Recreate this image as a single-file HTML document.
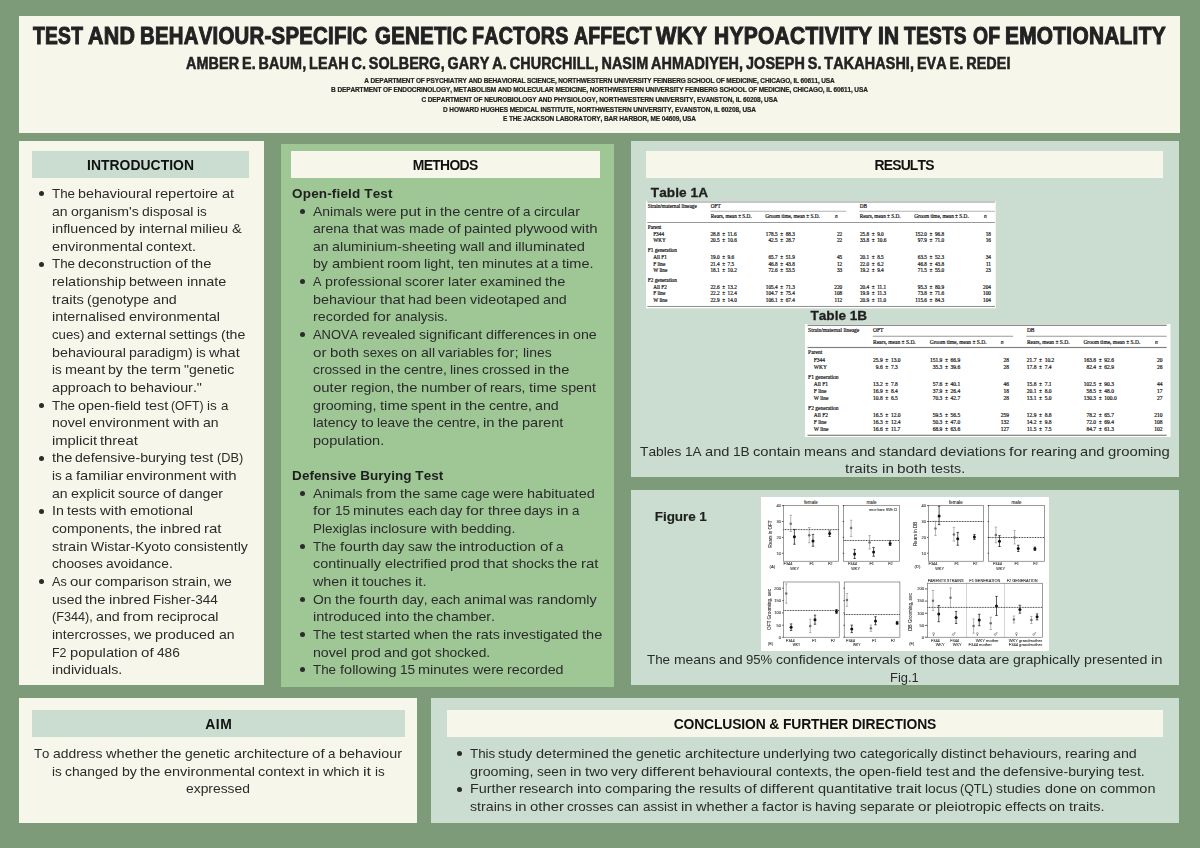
<!DOCTYPE html><html><head><meta charset="utf-8"><title>poster</title><style>
html,body{margin:0;padding:0}body{width:1200px;height:848px;background:#7d9b78;position:relative;overflow:hidden;font-family:"Liberation Sans",sans-serif}
.b{position:absolute}.t{position:absolute;white-space:pre;line-height:40px;font-kerning:none}.d{position:absolute;width:5px;height:5px;border-radius:50%;background:#2b2b2b}
svg{position:absolute;overflow:hidden}
</style></head><body>
<div class="b" style="left:19px;top:16px;width:1161px;height:117px;background:#f6f6ea"></div>
<div class="b" style="left:19px;top:141px;width:245px;height:544px;background:#f6f6ea"></div>
<div class="b" style="left:32px;top:151px;width:217px;height:26.5px;background:#cbddd1"></div>
<div class="b" style="left:281px;top:144px;width:333px;height:543px;background:#9fc796"></div>
<div class="b" style="left:291px;top:151px;width:309px;height:26.5px;background:#f6f6ea"></div>
<div class="b" style="left:631px;top:141px;width:548px;height:336px;background:#cbddd1"></div>
<div class="b" style="left:646px;top:151px;width:517px;height:26.8px;background:#f6f6ea"></div>
<div class="b" style="left:631px;top:490px;width:548px;height:195px;background:#cbddd1"></div>
<div class="b" style="left:19px;top:698px;width:398px;height:125px;background:#f6f6ea"></div>
<div class="b" style="left:32px;top:710px;width:373px;height:27px;background:#cbddd1"></div>
<div class="b" style="left:431px;top:698px;width:748px;height:125px;background:#cbddd1"></div>
<div class="b" style="left:447px;top:710px;width:716px;height:27px;background:#f6f6ea"></div>
<div class="d" style="left:38.6px;top:191.0px"></div>
<div class="d" style="left:38.6px;top:261.6px"></div>
<div class="d" style="left:38.6px;top:402.7px"></div>
<div class="d" style="left:38.6px;top:455.6px"></div>
<div class="d" style="left:38.6px;top:508.5px"></div>
<div class="d" style="left:38.6px;top:579.1px"></div>
<div class="d" style="left:300.3px;top:208.6px"></div>
<div class="d" style="left:300.3px;top:279.2px"></div>
<div class="d" style="left:300.3px;top:332.1px"></div>
<div class="d" style="left:300.3px;top:490.9px"></div>
<div class="d" style="left:300.3px;top:543.8px"></div>
<div class="d" style="left:300.3px;top:596.7px"></div>
<div class="d" style="left:300.3px;top:632.0px"></div>
<div class="d" style="left:300.3px;top:667.3px"></div>
<div class="d" style="left:456.5px;top:751.3px"></div>
<div class="d" style="left:456.5px;top:786.5px"></div>
<div style="position:absolute;left:0;top:0;width:1200px;height:848px;will-change:transform">
<span class="t" id="t0" style="left:33.40px;top:16.00px;font-size:23px;color:#222;letter-spacing:0.3000px;transform-origin:0 50%;transform:scaleX(0.83606);font-weight:700;-webkit-text-stroke:1px #222;">TEST</span>
<span class="t" id="t1" style="left:87.50px;top:16.00px;font-size:23px;color:#222;letter-spacing:0.3000px;transform-origin:0 50%;transform:scaleX(0.93190);font-weight:700;-webkit-text-stroke:1px #222;">AND</span>
<span class="t" id="t2" style="left:139.70px;top:16.00px;font-size:23px;color:#222;letter-spacing:0.3000px;transform-origin:0 50%;transform:scaleX(0.88493);font-weight:700;-webkit-text-stroke:1px #222;">BEHAVIOUR-SPECIFIC</span>
<span class="t" id="t3" style="left:374.70px;top:16.00px;font-size:23px;color:#222;letter-spacing:0.3000px;transform-origin:0 50%;transform:scaleX(0.88713);font-weight:700;-webkit-text-stroke:1px #222;">GENETIC</span>
<span class="t" id="t4" style="left:472.20px;top:16.00px;font-size:23px;color:#222;letter-spacing:0.3000px;transform-origin:0 50%;transform:scaleX(0.85336);font-weight:700;-webkit-text-stroke:1px #222;">FACTORS</span>
<span class="t" id="t5" style="left:573.90px;top:16.00px;font-size:23px;color:#222;letter-spacing:0.3000px;transform-origin:0 50%;transform:scaleX(0.84259);font-weight:700;-webkit-text-stroke:1px #222;">AFFECT</span>
<span class="t" id="t6" style="left:656.40px;top:16.00px;font-size:23px;color:#222;letter-spacing:0.3000px;transform-origin:0 50%;transform:scaleX(0.93803);font-weight:700;-webkit-text-stroke:1px #222;">WKY</span>
<span class="t" id="t7" style="left:713.90px;top:16.00px;font-size:23px;color:#222;letter-spacing:0.3000px;transform-origin:0 50%;transform:scaleX(0.91249);font-weight:700;-webkit-text-stroke:1px #222;">HYPOACTIVITY</span>
<span class="t" id="t8" style="left:877.70px;top:16.00px;font-size:23px;color:#222;letter-spacing:0.3000px;transform-origin:0 50%;transform:scaleX(0.90521);font-weight:700;-webkit-text-stroke:1px #222;">IN</span>
<span class="t" id="t9" style="left:903.95px;top:16.00px;font-size:23px;color:#222;letter-spacing:0.3000px;transform-origin:0 50%;transform:scaleX(0.83107);font-weight:700;-webkit-text-stroke:1px #222;">TESTS</span>
<span class="t" id="t10" style="left:972.70px;top:16.00px;font-size:23px;color:#222;letter-spacing:0.3000px;transform-origin:0 50%;transform:scaleX(0.84040);font-weight:700;-webkit-text-stroke:1px #222;">OF</span>
<span class="t" id="t11" style="left:1005.45px;top:16.00px;font-size:23px;color:#222;letter-spacing:0.3000px;transform-origin:0 50%;transform:scaleX(0.90696);font-weight:700;-webkit-text-stroke:1px #222;">EMOTIONALITY</span>
<span class="t" id="t12" style="left:185.75px;top:44.00px;font-size:16px;color:#222;letter-spacing:0.1500px;transform-origin:0 50%;transform:scaleX(0.89624);word-spacing:-1.5px;font-weight:700;-webkit-text-stroke:0.55px #222;">AMBER E. BAUM, LEAH C. SOLBERG, GARY A. CHURCHILL, NASIM AHMADIYEH, JOSEPH S. TAKAHASHI, EVA E. REDEI</span>
<span class="t" id="t13" style="left:364.25px;top:61.00px;font-size:6.5px;color:#222;letter-spacing:-0.1394px;font-weight:700;-webkit-text-stroke:0.2px #222;">A DEPARTMENT OF PSYCHIATRY AND BEHAVIORAL SCIENCE, NORTHWESTERN UNIVERSITY FEINBERG SCHOOL OF MEDICINE, CHICAGO, IL 60611, USA</span>
<span class="t" id="t14" style="left:331.12px;top:70.00px;font-size:6.5px;color:#222;letter-spacing:-0.1154px;font-weight:700;-webkit-text-stroke:0.2px #222;">B DEPARTMENT OF ENDOCRINOLOGY, METABOLISM AND MOLECULAR MEDICINE, NORTHWESTERN UNIVERSITY FEINBERG SCHOOL OF MEDICINE, CHICAGO, IL 60611, USA</span>
<span class="t" id="t15" style="left:421.38px;top:80.00px;font-size:6.5px;color:#222;letter-spacing:-0.0927px;font-weight:700;-webkit-text-stroke:0.2px #222;">C DEPARTMENT OF NEUROBIOLOGY AND PHYSIOLOGY, NORTHWESTERN UNIVERSITY, EVANSTON, IL 60208, USA</span>
<span class="t" id="t16" style="left:443.00px;top:90.00px;font-size:6.5px;color:#222;letter-spacing:-0.0764px;font-weight:700;-webkit-text-stroke:0.2px #222;">D HOWARD HUGHES MEDICAL INSTITUTE, NORTHWESTERN UNIVERSITY, EVANSTON, IL 60208, USA</span>
<span class="t" id="t17" style="left:503.00px;top:99.00px;font-size:6.5px;color:#222;letter-spacing:-0.1201px;font-weight:700;-webkit-text-stroke:0.2px #222;">E THE JACKSON LABORATORY, BAR HARBOR, ME 04609, USA</span>
<span class="t" id="t18" style="left:87.00px;top:145.00px;font-size:13.9px;color:#111;letter-spacing:0.0466px;font-weight:700;">INTRODUCTION</span>
<span class="t" id="t19" style="left:412.80px;top:145.00px;font-size:13.9px;color:#111;letter-spacing:-0.6770px;font-weight:700;">METHODS</span>
<span class="t" id="t20" style="left:874.50px;top:145.00px;font-size:13.9px;color:#111;letter-spacing:-0.8049px;font-weight:700;">RESULTS</span>
<span class="t" id="t21" style="left:205.25px;top:704.00px;font-size:13.9px;color:#111;letter-spacing:0.5156px;font-weight:700;">AIM</span>
<span class="t" id="t22" style="left:673.65px;top:704.00px;font-size:13.9px;color:#111;letter-spacing:-0.1438px;font-weight:700;">CONCLUSION &amp; FURTHER DIRECTIONS</span>
<span class="t" id="t23" style="left:51.60px;top:174.00px;font-size:13.5px;color:#2b2b2b;letter-spacing:0.0000px;transform-origin:0 50%;transform:scaleX(0.99029);">The</span>
<span class="t" id="t24" style="left:78.10px;top:174.00px;font-size:13.5px;color:#2b2b2b;letter-spacing:0.0000px;transform-origin:0 50%;transform:scaleX(1.05777);">behavioural</span>
<span class="t" id="t25" style="left:155.41px;top:174.00px;font-size:13.5px;color:#2b2b2b;letter-spacing:0.0000px;transform-origin:0 50%;transform:scaleX(1.09155);">repertoire</span>
<span class="t" id="t26" style="left:221.95px;top:174.00px;font-size:13.5px;color:#2b2b2b;letter-spacing:0.0000px;transform-origin:0 50%;transform:scaleX(1.07602);">at</span>
<span class="t" id="t27" style="left:51.60px;top:192.00px;font-size:13.5px;color:#2b2b2b;letter-spacing:0.0000px;transform-origin:0 50%;transform:scaleX(1.03774);">an</span>
<span class="t" id="t28" style="left:70.66px;top:192.00px;font-size:13.5px;color:#2b2b2b;letter-spacing:0.0000px;transform-origin:0 50%;transform:scaleX(1.04601);">organism's</span>
<span class="t" id="t29" style="left:141.97px;top:192.00px;font-size:13.5px;color:#2b2b2b;letter-spacing:0.0000px;transform-origin:0 50%;transform:scaleX(1.03520);">disposal</span>
<span class="t" id="t30" style="left:196.71px;top:192.00px;font-size:13.5px;color:#2b2b2b;letter-spacing:0.0000px;transform-origin:0 50%;transform:scaleX(0.99824);">is</span>
<span class="t" id="t31" style="left:51.60px;top:209.00px;font-size:13.5px;color:#2b2b2b;letter-spacing:0.0000px;transform-origin:0 50%;transform:scaleX(1.06057);">influenced</span>
<span class="t" id="t32" style="left:120.35px;top:209.00px;font-size:13.5px;color:#2b2b2b;letter-spacing:0.0000px;transform-origin:0 50%;transform:scaleX(1.04552);">by</span>
<span class="t" id="t33" style="left:138.73px;top:209.00px;font-size:13.5px;color:#2b2b2b;letter-spacing:0.0000px;transform-origin:0 50%;transform:scaleX(1.08751);">internal</span>
<span class="t" id="t34" style="left:190.35px;top:209.00px;font-size:13.5px;color:#2b2b2b;letter-spacing:0.0000px;transform-origin:0 50%;transform:scaleX(1.08272);">milieu</span>
<span class="t" id="t35" style="left:232.00px;top:209.00px;font-size:13.5px;color:#2b2b2b;letter-spacing:0.0000px;transform-origin:0 50%;transform:scaleX(1.07955);">&amp;</span>
<span class="t" id="t36" style="left:51.60px;top:227.00px;font-size:13.5px;color:#2b2b2b;letter-spacing:0.0000px;transform-origin:0 50%;transform:scaleX(1.07354);">environmental</span>
<span class="t" id="t37" style="left:146.10px;top:227.00px;font-size:13.5px;color:#2b2b2b;letter-spacing:0.0000px;transform-origin:0 50%;transform:scaleX(1.05886);">context.</span>
<span class="t" id="t38" style="left:51.60px;top:244.00px;font-size:13.5px;color:#2b2b2b;letter-spacing:0.0000px;transform-origin:0 50%;transform:scaleX(0.99029);">The</span>
<span class="t" id="t39" style="left:78.10px;top:244.00px;font-size:13.5px;color:#2b2b2b;letter-spacing:0.0000px;transform-origin:0 50%;transform:scaleX(1.06581);">deconstruction</span>
<span class="t" id="t40" style="left:175.16px;top:244.00px;font-size:13.5px;color:#2b2b2b;letter-spacing:0.0000px;transform-origin:0 50%;transform:scaleX(1.11590);">of</span>
<span class="t" id="t41" style="left:191.19px;top:244.00px;font-size:13.5px;color:#2b2b2b;letter-spacing:0.0000px;transform-origin:0 50%;transform:scaleX(1.08462);">the</span>
<span class="t" id="t42" style="left:51.60px;top:262.00px;font-size:13.5px;color:#2b2b2b;letter-spacing:0.0000px;transform-origin:0 50%;transform:scaleX(1.07336);">relationship</span>
<span class="t" id="t43" style="left:129.18px;top:262.00px;font-size:13.5px;color:#2b2b2b;letter-spacing:0.0000px;transform-origin:0 50%;transform:scaleX(1.05535);">between</span>
<span class="t" id="t44" style="left:186.51px;top:262.00px;font-size:13.5px;color:#2b2b2b;letter-spacing:0.0000px;transform-origin:0 50%;transform:scaleX(1.06916);">innate</span>
<span class="t" id="t45" style="left:51.60px;top:280.00px;font-size:13.5px;color:#2b2b2b;letter-spacing:0.0000px;transform-origin:0 50%;transform:scaleX(1.09358);">traits</span>
<span class="t" id="t46" style="left:87.07px;top:280.00px;font-size:13.5px;color:#2b2b2b;letter-spacing:0.0000px;transform-origin:0 50%;transform:scaleX(1.03368);">(genotype</span>
<span class="t" id="t47" style="left:152.60px;top:280.00px;font-size:13.5px;color:#2b2b2b;letter-spacing:0.0000px;transform-origin:0 50%;transform:scaleX(1.05494);">and</span>
<span class="t" id="t48" style="left:51.60px;top:297.00px;font-size:13.5px;color:#2b2b2b;letter-spacing:0.0000px;transform-origin:0 50%;transform:scaleX(1.06507);">internalised</span>
<span class="t" id="t49" style="left:128.60px;top:297.00px;font-size:13.5px;color:#2b2b2b;letter-spacing:0.0000px;transform-origin:0 50%;transform:scaleX(1.07354);">environmental</span>
<span class="t" id="t50" style="left:51.60px;top:315.00px;font-size:13.5px;color:#2b2b2b;letter-spacing:0.0000px;transform-origin:0 50%;transform:scaleX(0.97884);">cues)</span>
<span class="t" id="t51" style="left:87.38px;top:315.00px;font-size:13.5px;color:#2b2b2b;letter-spacing:0.0000px;transform-origin:0 50%;transform:scaleX(1.05494);">and</span>
<span class="t" id="t52" style="left:114.61px;top:315.00px;font-size:13.5px;color:#2b2b2b;letter-spacing:0.0000px;transform-origin:0 50%;transform:scaleX(1.06428);">external</span>
<span class="t" id="t53" style="left:169.19px;top:315.00px;font-size:13.5px;color:#2b2b2b;letter-spacing:0.0000px;transform-origin:0 50%;transform:scaleX(1.04178);">settings</span>
<span class="t" id="t54" style="left:221.13px;top:315.00px;font-size:13.5px;color:#2b2b2b;letter-spacing:0.0000px;transform-origin:0 50%;transform:scaleX(1.04513);">(the</span>
<span class="t" id="t55" style="left:51.60px;top:333.00px;font-size:13.5px;color:#2b2b2b;letter-spacing:0.0000px;transform-origin:0 50%;transform:scaleX(1.05777);">behavioural</span>
<span class="t" id="t56" style="left:128.91px;top:333.00px;font-size:13.5px;color:#2b2b2b;letter-spacing:0.0000px;transform-origin:0 50%;transform:scaleX(1.04700);">paradigm)</span>
<span class="t" id="t57" style="left:196.01px;top:333.00px;font-size:13.5px;color:#2b2b2b;letter-spacing:0.0000px;transform-origin:0 50%;transform:scaleX(0.99824);">is</span>
<span class="t" id="t58" style="left:209.21px;top:333.00px;font-size:13.5px;color:#2b2b2b;letter-spacing:0.0000px;transform-origin:0 50%;transform:scaleX(1.07518);">what</span>
<span class="t" id="t59" style="left:51.60px;top:350.00px;font-size:13.5px;color:#2b2b2b;letter-spacing:0.0000px;transform-origin:0 50%;transform:scaleX(0.99824);">is</span>
<span class="t" id="t60" style="left:64.80px;top:350.00px;font-size:13.5px;color:#2b2b2b;letter-spacing:0.0000px;transform-origin:0 50%;transform:scaleX(1.07079);">meant</span>
<span class="t" id="t61" style="left:108.45px;top:350.00px;font-size:13.5px;color:#2b2b2b;letter-spacing:0.0000px;transform-origin:0 50%;transform:scaleX(1.04552);">by</span>
<span class="t" id="t62" style="left:126.83px;top:350.00px;font-size:13.5px;color:#2b2b2b;letter-spacing:0.0000px;transform-origin:0 50%;transform:scaleX(1.08462);">the</span>
<span class="t" id="t63" style="left:150.66px;top:350.00px;font-size:13.5px;color:#2b2b2b;letter-spacing:0.0000px;transform-origin:0 50%;transform:scaleX(1.11229);">term</span>
<span class="t" id="t64" style="left:184.16px;top:350.00px;font-size:13.5px;color:#2b2b2b;letter-spacing:0.0000px;transform-origin:0 50%;transform:scaleX(1.03915);">"genetic</span>
<span class="t" id="t65" style="left:51.60px;top:368.00px;font-size:13.5px;color:#2b2b2b;letter-spacing:0.0000px;transform-origin:0 50%;transform:scaleX(1.05152);">approach</span>
<span class="t" id="t66" style="left:114.26px;top:368.00px;font-size:13.5px;color:#2b2b2b;letter-spacing:0.0000px;transform-origin:0 50%;transform:scaleX(1.13265);">to</span>
<span class="t" id="t67" style="left:130.48px;top:368.00px;font-size:13.5px;color:#2b2b2b;letter-spacing:0.0000px;transform-origin:0 50%;transform:scaleX(1.06054);">behaviour."</span>
<span class="t" id="t68" style="left:51.60px;top:386.00px;font-size:13.5px;color:#2b2b2b;letter-spacing:0.0000px;transform-origin:0 50%;transform:scaleX(0.99029);">The</span>
<span class="t" id="t69" style="left:78.10px;top:386.00px;font-size:13.5px;color:#2b2b2b;letter-spacing:0.0000px;transform-origin:0 50%;transform:scaleX(1.06398);">open-field</span>
<span class="t" id="t70" style="left:144.66px;top:386.00px;font-size:13.5px;color:#2b2b2b;letter-spacing:0.0000px;transform-origin:0 50%;transform:scaleX(1.06841);">test</span>
<span class="t" id="t71" style="left:171.38px;top:386.00px;font-size:13.5px;color:#2b2b2b;letter-spacing:0.0000px;transform-origin:0 50%;transform:scaleX(0.90366);">(OFT)</span>
<span class="t" id="t72" style="left:207.37px;top:386.00px;font-size:13.5px;color:#2b2b2b;letter-spacing:0.0000px;transform-origin:0 50%;transform:scaleX(0.99824);">is</span>
<span class="t" id="t73" style="left:220.57px;top:386.00px;font-size:13.5px;color:#2b2b2b;letter-spacing:0.0000px;transform-origin:0 50%;transform:scaleX(0.98663);">a</span>
<span class="t" id="t74" style="left:51.60px;top:403.00px;font-size:13.5px;color:#2b2b2b;letter-spacing:0.0000px;transform-origin:0 50%;transform:scaleX(1.04850);">novel</span>
<span class="t" id="t75" style="left:88.91px;top:403.00px;font-size:13.5px;color:#2b2b2b;letter-spacing:0.0000px;transform-origin:0 50%;transform:scaleX(1.08006);">environment</span>
<span class="t" id="t76" style="left:172.62px;top:403.00px;font-size:13.5px;color:#2b2b2b;letter-spacing:0.0000px;transform-origin:0 50%;transform:scaleX(1.10900);">with</span>
<span class="t" id="t77" style="left:202.72px;top:403.00px;font-size:13.5px;color:#2b2b2b;letter-spacing:0.0000px;transform-origin:0 50%;transform:scaleX(1.03774);">an</span>
<span class="t" id="t78" style="left:51.60px;top:421.00px;font-size:13.5px;color:#2b2b2b;letter-spacing:0.0000px;transform-origin:0 50%;transform:scaleX(1.09331);">implicit</span>
<span class="t" id="t79" style="left:100.18px;top:421.00px;font-size:13.5px;color:#2b2b2b;letter-spacing:0.0000px;transform-origin:0 50%;transform:scaleX(1.09858);">threat</span>
<span class="t" id="t80" style="left:51.60px;top:438.00px;font-size:13.5px;color:#2b2b2b;letter-spacing:0.0000px;transform-origin:0 50%;transform:scaleX(1.08462);">the</span>
<span class="t" id="t81" style="left:75.43px;top:438.00px;font-size:13.5px;color:#2b2b2b;letter-spacing:0.0000px;transform-origin:0 50%;transform:scaleX(1.04613);">defensive-burying</span>
<span class="t" id="t82" style="left:190.39px;top:438.00px;font-size:13.5px;color:#2b2b2b;letter-spacing:0.0000px;transform-origin:0 50%;transform:scaleX(1.06841);">test</span>
<span class="t" id="t83" style="left:217.11px;top:438.00px;font-size:13.5px;color:#2b2b2b;letter-spacing:0.0000px;transform-origin:0 50%;transform:scaleX(0.94593);">(DB)</span>
<span class="t" id="t84" style="left:51.60px;top:456.00px;font-size:13.5px;color:#2b2b2b;letter-spacing:0.0000px;transform-origin:0 50%;transform:scaleX(0.99824);">is</span>
<span class="t" id="t85" style="left:64.80px;top:456.00px;font-size:13.5px;color:#2b2b2b;letter-spacing:0.0000px;transform-origin:0 50%;transform:scaleX(0.98664);">a</span>
<span class="t" id="t86" style="left:75.67px;top:456.00px;font-size:13.5px;color:#2b2b2b;letter-spacing:0.0000px;transform-origin:0 50%;transform:scaleX(1.08720);">familiar</span>
<span class="t" id="t87" style="left:126.45px;top:456.00px;font-size:13.5px;color:#2b2b2b;letter-spacing:0.0000px;transform-origin:0 50%;transform:scaleX(1.08006);">environment</span>
<span class="t" id="t88" style="left:210.16px;top:456.00px;font-size:13.5px;color:#2b2b2b;letter-spacing:0.0000px;transform-origin:0 50%;transform:scaleX(1.10900);">with</span>
<span class="t" id="t89" style="left:51.60px;top:474.00px;font-size:13.5px;color:#2b2b2b;letter-spacing:0.0000px;transform-origin:0 50%;transform:scaleX(1.03774);">an</span>
<span class="t" id="t90" style="left:70.66px;top:474.00px;font-size:13.5px;color:#2b2b2b;letter-spacing:0.0000px;transform-origin:0 50%;transform:scaleX(1.06286);">explicit</span>
<span class="t" id="t91" style="left:117.99px;top:474.00px;font-size:13.5px;color:#2b2b2b;letter-spacing:0.0000px;transform-origin:0 50%;transform:scaleX(1.03297);">source</span>
<span class="t" id="t92" style="left:163.32px;top:474.00px;font-size:13.5px;color:#2b2b2b;letter-spacing:0.0000px;transform-origin:0 50%;transform:scaleX(1.11590);">of</span>
<span class="t" id="t93" style="left:179.35px;top:474.00px;font-size:13.5px;color:#2b2b2b;letter-spacing:0.0000px;transform-origin:0 50%;transform:scaleX(1.04636);">danger</span>
<span class="t" id="t94" style="left:51.60px;top:491.00px;font-size:13.5px;color:#2b2b2b;letter-spacing:0.0000px;transform-origin:0 50%;transform:scaleX(1.05638);">In</span>
<span class="t" id="t95" style="left:66.96px;top:491.00px;font-size:13.5px;color:#2b2b2b;letter-spacing:0.0000px;transform-origin:0 50%;transform:scaleX(1.03856);">tests</span>
<span class="t" id="t96" style="left:100.04px;top:491.00px;font-size:13.5px;color:#2b2b2b;letter-spacing:0.0000px;transform-origin:0 50%;transform:scaleX(1.10900);">with</span>
<span class="t" id="t97" style="left:130.14px;top:491.00px;font-size:13.5px;color:#2b2b2b;letter-spacing:0.0000px;transform-origin:0 50%;transform:scaleX(1.07672);">emotional</span>
<span class="t" id="t98" style="left:51.60px;top:509.00px;font-size:13.5px;color:#2b2b2b;letter-spacing:0.0000px;transform-origin:0 50%;transform:scaleX(1.05061);">components,</span>
<span class="t" id="t99" style="left:136.27px;top:509.00px;font-size:13.5px;color:#2b2b2b;letter-spacing:0.0000px;transform-origin:0 50%;transform:scaleX(1.08462);">the</span>
<span class="t" id="t100" style="left:160.11px;top:509.00px;font-size:13.5px;color:#2b2b2b;letter-spacing:0.0000px;transform-origin:0 50%;transform:scaleX(1.08760);">inbred</span>
<span class="t" id="t101" style="left:204.39px;top:509.00px;font-size:13.5px;color:#2b2b2b;letter-spacing:0.0000px;transform-origin:0 50%;transform:scaleX(1.11412);">rat</span>
<span class="t" id="t102" style="left:51.60px;top:527.00px;font-size:13.5px;color:#2b2b2b;letter-spacing:0.0000px;transform-origin:0 50%;transform:scaleX(1.07467);">strain</span>
<span class="t" id="t103" style="left:90.54px;top:527.00px;font-size:13.5px;color:#2b2b2b;letter-spacing:0.0000px;transform-origin:0 50%;transform:scaleX(1.03115);">Wistar-Kyoto</span>
<span class="t" id="t104" style="left:173.68px;top:527.00px;font-size:13.5px;color:#2b2b2b;letter-spacing:0.0000px;transform-origin:0 50%;transform:scaleX(1.04713);">consistently</span>
<span class="t" id="t105" style="left:51.60px;top:544.00px;font-size:13.5px;color:#2b2b2b;letter-spacing:0.0000px;transform-origin:0 50%;transform:scaleX(1.01077);">chooses</span>
<span class="t" id="t106" style="left:105.90px;top:544.00px;font-size:13.5px;color:#2b2b2b;letter-spacing:0.0000px;transform-origin:0 50%;transform:scaleX(1.02190);">avoidance.</span>
<span class="t" id="t107" style="left:51.60px;top:562.00px;font-size:13.5px;color:#2b2b2b;letter-spacing:0.0000px;transform-origin:0 50%;transform:scaleX(0.93862);">As</span>
<span class="t" id="t108" style="left:69.86px;top:562.00px;font-size:13.5px;color:#2b2b2b;letter-spacing:0.0000px;transform-origin:0 50%;transform:scaleX(1.11086);">our</span>
<span class="t" id="t109" style="left:95.00px;top:562.00px;font-size:13.5px;color:#2b2b2b;letter-spacing:0.0000px;transform-origin:0 50%;transform:scaleX(1.05759);">comparison</span>
<span class="t" id="t110" style="left:172.27px;top:562.00px;font-size:13.5px;color:#2b2b2b;letter-spacing:0.0000px;transform-origin:0 50%;transform:scaleX(1.05395);">strain,</span>
<span class="t" id="t111" style="left:214.48px;top:562.00px;font-size:13.5px;color:#2b2b2b;letter-spacing:0.0000px;transform-origin:0 50%;transform:scaleX(1.03391);">we</span>
<span class="t" id="t112" style="left:51.60px;top:580.00px;font-size:13.5px;color:#2b2b2b;letter-spacing:0.0000px;transform-origin:0 50%;transform:scaleX(1.03119);">used</span>
<span class="t" id="t113" style="left:85.26px;top:580.00px;font-size:13.5px;color:#2b2b2b;letter-spacing:0.0000px;transform-origin:0 50%;transform:scaleX(1.08462);">the</span>
<span class="t" id="t114" style="left:109.09px;top:580.00px;font-size:13.5px;color:#2b2b2b;letter-spacing:0.0000px;transform-origin:0 50%;transform:scaleX(1.08760);">inbred</span>
<span class="t" id="t115" style="left:153.37px;top:580.00px;font-size:13.5px;color:#2b2b2b;letter-spacing:0.0000px;transform-origin:0 50%;transform:scaleX(1.00481);">Fisher-344</span>
<span class="t" id="t116" style="left:51.60px;top:597.00px;font-size:13.5px;color:#2b2b2b;letter-spacing:0.0000px;transform-origin:0 50%;transform:scaleX(0.93923);">(F344),</span>
<span class="t" id="t117" style="left:95.93px;top:597.00px;font-size:13.5px;color:#2b2b2b;letter-spacing:0.0000px;transform-origin:0 50%;transform:scaleX(1.05494);">and</span>
<span class="t" id="t118" style="left:123.17px;top:597.00px;font-size:13.5px;color:#2b2b2b;letter-spacing:0.0000px;transform-origin:0 50%;transform:scaleX(1.12651);">from</span>
<span class="t" id="t119" style="left:157.05px;top:597.00px;font-size:13.5px;color:#2b2b2b;letter-spacing:0.0000px;transform-origin:0 50%;transform:scaleX(1.04976);">reciprocal</span>
<span class="t" id="t120" style="left:51.60px;top:615.00px;font-size:13.5px;color:#2b2b2b;letter-spacing:0.0000px;transform-origin:0 50%;transform:scaleX(1.03042);">intercrosses,</span>
<span class="t" id="t121" style="left:133.92px;top:615.00px;font-size:13.5px;color:#2b2b2b;letter-spacing:0.0000px;transform-origin:0 50%;transform:scaleX(1.03391);">we</span>
<span class="t" id="t122" style="left:155.24px;top:615.00px;font-size:13.5px;color:#2b2b2b;letter-spacing:0.0000px;transform-origin:0 50%;transform:scaleX(1.06610);">produced</span>
<span class="t" id="t123" style="left:218.72px;top:615.00px;font-size:13.5px;color:#2b2b2b;letter-spacing:0.0000px;transform-origin:0 50%;transform:scaleX(1.03774);">an</span>
<span class="t" id="t124" style="left:51.60px;top:633.00px;font-size:13.5px;color:#2b2b2b;letter-spacing:0.0000px;transform-origin:0 50%;transform:scaleX(0.91920);">F2</span>
<span class="t" id="t125" style="left:69.56px;top:633.00px;font-size:13.5px;color:#2b2b2b;letter-spacing:0.0000px;transform-origin:0 50%;transform:scaleX(1.08614);">population</span>
<span class="t" id="t126" style="left:140.70px;top:633.00px;font-size:13.5px;color:#2b2b2b;letter-spacing:0.0000px;transform-origin:0 50%;transform:scaleX(1.11590);">of</span>
<span class="t" id="t127" style="left:156.73px;top:633.00px;font-size:13.5px;color:#2b2b2b;letter-spacing:0.0000px;transform-origin:0 50%;transform:scaleX(1.01332);">486</span>
<span class="t" id="t128" style="left:51.60px;top:650.00px;font-size:13.5px;color:#2b2b2b;letter-spacing:0.0000px;transform-origin:0 50%;transform:scaleX(1.05211);">individuals.</span>
<span class="t" id="t129" style="left:292.10px;top:174.00px;font-size:13.5px;color:#1f1f1f;letter-spacing:0.1522px;font-weight:700;">Open-field Test</span>
<span class="t" id="t130" style="left:313.20px;top:192.00px;font-size:13.5px;color:#2b2b2b;letter-spacing:0.0000px;transform-origin:0 50%;transform:scaleX(1.03181);">Animals</span>
<span class="t" id="t131" style="left:366.21px;top:192.00px;font-size:13.5px;color:#2b2b2b;letter-spacing:0.0000px;transform-origin:0 50%;transform:scaleX(1.05154);">were</span>
<span class="t" id="t132" style="left:400.44px;top:192.00px;font-size:13.5px;color:#2b2b2b;letter-spacing:0.0000px;transform-origin:0 50%;transform:scaleX(1.12137);">put</span>
<span class="t" id="t133" style="left:424.97px;top:192.00px;font-size:13.5px;color:#2b2b2b;letter-spacing:0.0000px;transform-origin:0 50%;transform:scaleX(1.09890);">in</span>
<span class="t" id="t134" style="left:439.99px;top:192.00px;font-size:13.5px;color:#2b2b2b;letter-spacing:0.0000px;transform-origin:0 50%;transform:scaleX(1.08462);">the</span>
<span class="t" id="t135" style="left:463.82px;top:192.00px;font-size:13.5px;color:#2b2b2b;letter-spacing:0.0000px;transform-origin:0 50%;transform:scaleX(1.05622);">centre</span>
<span class="t" id="t136" style="left:506.93px;top:192.00px;font-size:13.5px;color:#2b2b2b;letter-spacing:0.0000px;transform-origin:0 50%;transform:scaleX(1.11590);">of</span>
<span class="t" id="t137" style="left:522.96px;top:192.00px;font-size:13.5px;color:#2b2b2b;letter-spacing:0.0000px;transform-origin:0 50%;transform:scaleX(0.98663);">a</span>
<span class="t" id="t138" style="left:533.84px;top:192.00px;font-size:13.5px;color:#2b2b2b;letter-spacing:0.0000px;transform-origin:0 50%;transform:scaleX(1.05533);">circular</span>
<span class="t" id="t139" style="left:313.20px;top:209.00px;font-size:13.5px;color:#2b2b2b;letter-spacing:0.0000px;transform-origin:0 50%;transform:scaleX(1.04069);">arena</span>
<span class="t" id="t140" style="left:352.60px;top:209.00px;font-size:13.5px;color:#2b2b2b;letter-spacing:0.0000px;transform-origin:0 50%;transform:scaleX(1.11012);">that</span>
<span class="t" id="t141" style="left:381.08px;top:209.00px;font-size:13.5px;color:#2b2b2b;letter-spacing:0.0000px;transform-origin:0 50%;transform:scaleX(1.00545);">was</span>
<span class="t" id="t142" style="left:408.69px;top:209.00px;font-size:13.5px;color:#2b2b2b;letter-spacing:0.0000px;transform-origin:0 50%;transform:scaleX(1.04993);">made</span>
<span class="t" id="t143" style="left:447.62px;top:209.00px;font-size:13.5px;color:#2b2b2b;letter-spacing:0.0000px;transform-origin:0 50%;transform:scaleX(1.11590);">of</span>
<span class="t" id="t144" style="left:463.65px;top:209.00px;font-size:13.5px;color:#2b2b2b;letter-spacing:0.0000px;transform-origin:0 50%;transform:scaleX(1.07228);">painted</span>
<span class="t" id="t145" style="left:514.61px;top:209.00px;font-size:13.5px;color:#2b2b2b;letter-spacing:0.0000px;transform-origin:0 50%;transform:scaleX(1.06872);">plywood</span>
<span class="t" id="t146" style="left:571.01px;top:209.00px;font-size:13.5px;color:#2b2b2b;letter-spacing:0.0000px;transform-origin:0 50%;transform:scaleX(1.10901);">with</span>
<span class="t" id="t147" style="left:313.20px;top:227.00px;font-size:13.5px;color:#2b2b2b;letter-spacing:0.0000px;transform-origin:0 50%;transform:scaleX(1.03775);">an</span>
<span class="t" id="t148" style="left:332.26px;top:227.00px;font-size:13.5px;color:#2b2b2b;letter-spacing:0.0000px;transform-origin:0 50%;transform:scaleX(1.06138);">aluminium-sheeting</span>
<span class="t" id="t149" style="left:459.97px;top:227.00px;font-size:13.5px;color:#2b2b2b;letter-spacing:0.0000px;transform-origin:0 50%;transform:scaleX(1.05437);">wall</span>
<span class="t" id="t150" style="left:487.97px;top:227.00px;font-size:13.5px;color:#2b2b2b;letter-spacing:0.0000px;transform-origin:0 50%;transform:scaleX(1.05494);">and</span>
<span class="t" id="t151" style="left:515.20px;top:227.00px;font-size:13.5px;color:#2b2b2b;letter-spacing:0.0000px;transform-origin:0 50%;transform:scaleX(1.08496);">illuminated</span>
<span class="t" id="t152" style="left:313.20px;top:244.00px;font-size:13.5px;color:#2b2b2b;letter-spacing:0.0000px;transform-origin:0 50%;transform:scaleX(1.04552);">by</span>
<span class="t" id="t153" style="left:331.58px;top:244.00px;font-size:13.5px;color:#2b2b2b;letter-spacing:0.0000px;transform-origin:0 50%;transform:scaleX(1.07702);">ambient</span>
<span class="t" id="t154" style="left:386.77px;top:244.00px;font-size:13.5px;color:#2b2b2b;letter-spacing:0.0000px;transform-origin:0 50%;transform:scaleX(1.10354);">room</span>
<span class="t" id="t155" style="left:424.19px;top:244.00px;font-size:13.5px;color:#2b2b2b;letter-spacing:0.0000px;transform-origin:0 50%;transform:scaleX(1.05875);">light,</span>
<span class="t" id="t156" style="left:457.86px;top:244.00px;font-size:13.5px;color:#2b2b2b;letter-spacing:0.0000px;transform-origin:0 50%;transform:scaleX(1.08462);">ten</span>
<span class="t" id="t157" style="left:481.69px;top:244.00px;font-size:13.5px;color:#2b2b2b;letter-spacing:0.0000px;transform-origin:0 50%;transform:scaleX(1.07207);">minutes</span>
<span class="t" id="t158" style="left:535.84px;top:244.00px;font-size:13.5px;color:#2b2b2b;letter-spacing:0.0000px;transform-origin:0 50%;transform:scaleX(1.07603);">at</span>
<span class="t" id="t159" style="left:551.43px;top:244.00px;font-size:13.5px;color:#2b2b2b;letter-spacing:0.0000px;transform-origin:0 50%;transform:scaleX(0.98663);">a</span>
<span class="t" id="t160" style="left:562.31px;top:244.00px;font-size:13.5px;color:#2b2b2b;letter-spacing:0.0000px;transform-origin:0 50%;transform:scaleX(1.07668);">time.</span>
<span class="t" id="t161" style="left:313.20px;top:262.00px;font-size:13.5px;color:#2b2b2b;letter-spacing:0.0000px;transform-origin:0 50%;transform:scaleX(0.93585);">A</span>
<span class="t" id="t162" style="left:325.10px;top:262.00px;font-size:13.5px;color:#2b2b2b;letter-spacing:0.0000px;transform-origin:0 50%;transform:scaleX(1.05475);">professional</span>
<span class="t" id="t163" style="left:405.35px;top:262.00px;font-size:13.5px;color:#2b2b2b;letter-spacing:0.0000px;transform-origin:0 50%;transform:scaleX(1.04295);">scorer</span>
<span class="t" id="t164" style="left:447.94px;top:262.00px;font-size:13.5px;color:#2b2b2b;letter-spacing:0.0000px;transform-origin:0 50%;transform:scaleX(1.08192);">later</span>
<span class="t" id="t165" style="left:479.82px;top:262.00px;font-size:13.5px;color:#2b2b2b;letter-spacing:0.0000px;transform-origin:0 50%;transform:scaleX(1.05114);">examined</span>
<span class="t" id="t166" style="left:544.82px;top:262.00px;font-size:13.5px;color:#2b2b2b;letter-spacing:0.0000px;transform-origin:0 50%;transform:scaleX(1.08462);">the</span>
<span class="t" id="t167" style="left:313.20px;top:280.00px;font-size:13.5px;color:#2b2b2b;letter-spacing:0.0000px;transform-origin:0 50%;transform:scaleX(1.06343);">behaviour</span>
<span class="t" id="t168" style="left:379.72px;top:280.00px;font-size:13.5px;color:#2b2b2b;letter-spacing:0.0000px;transform-origin:0 50%;transform:scaleX(1.11012);">that</span>
<span class="t" id="t169" style="left:408.20px;top:280.00px;font-size:13.5px;color:#2b2b2b;letter-spacing:0.0000px;transform-origin:0 50%;transform:scaleX(1.05494);">had</span>
<span class="t" id="t170" style="left:435.43px;top:280.00px;font-size:13.5px;color:#2b2b2b;letter-spacing:0.0000px;transform-origin:0 50%;transform:scaleX(1.04218);">been</span>
<span class="t" id="t171" style="left:470.21px;top:280.00px;font-size:13.5px;color:#2b2b2b;letter-spacing:0.0000px;transform-origin:0 50%;transform:scaleX(1.05623);">videotaped</span>
<span class="t" id="t172" style="left:543.45px;top:280.00px;font-size:13.5px;color:#2b2b2b;letter-spacing:0.0000px;transform-origin:0 50%;transform:scaleX(1.05493);">and</span>
<span class="t" id="t173" style="left:313.20px;top:297.00px;font-size:13.5px;color:#2b2b2b;letter-spacing:0.0000px;transform-origin:0 50%;transform:scaleX(1.06173);">recorded</span>
<span class="t" id="t174" style="left:373.25px;top:297.00px;font-size:13.5px;color:#2b2b2b;letter-spacing:0.0000px;transform-origin:0 50%;transform:scaleX(1.14260);">for</span>
<span class="t" id="t175" style="left:394.73px;top:297.00px;font-size:13.5px;color:#2b2b2b;letter-spacing:0.0000px;transform-origin:0 50%;transform:scaleX(1.00459);">analysis.</span>
<span class="t" id="t176" style="left:313.20px;top:315.00px;font-size:13.5px;color:#2b2b2b;letter-spacing:0.0000px;transform-origin:0 50%;transform:scaleX(0.95728);">ANOVA</span>
<span class="t" id="t177" style="left:361.91px;top:315.00px;font-size:13.5px;color:#2b2b2b;letter-spacing:0.0000px;transform-origin:0 50%;transform:scaleX(1.03479);">revealed</span>
<span class="t" id="t178" style="left:418.97px;top:315.00px;font-size:13.5px;color:#2b2b2b;letter-spacing:0.0000px;transform-origin:0 50%;transform:scaleX(1.05145);">significant</span>
<span class="t" id="t179" style="left:485.57px;top:315.00px;font-size:13.5px;color:#2b2b2b;letter-spacing:0.0000px;transform-origin:0 50%;transform:scaleX(1.05007);">differences</span>
<span class="t" id="t180" style="left:558.39px;top:315.00px;font-size:13.5px;color:#2b2b2b;letter-spacing:0.0000px;transform-origin:0 50%;transform:scaleX(1.09890);">in</span>
<span class="t" id="t181" style="left:573.41px;top:315.00px;font-size:13.5px;color:#2b2b2b;letter-spacing:0.0000px;transform-origin:0 50%;transform:scaleX(1.05262);">one</span>
<span class="t" id="t182" style="left:313.20px;top:333.00px;font-size:13.5px;color:#2b2b2b;letter-spacing:0.0000px;transform-origin:0 50%;transform:scaleX(1.12318);">or</span>
<span class="t" id="t183" style="left:330.16px;top:333.00px;font-size:13.5px;color:#2b2b2b;letter-spacing:0.0000px;transform-origin:0 50%;transform:scaleX(1.10778);">both</span>
<span class="t" id="t184" style="left:362.74px;top:333.00px;font-size:13.5px;color:#2b2b2b;letter-spacing:0.0000px;transform-origin:0 50%;transform:scaleX(0.98407);">sexes</span>
<span class="t" id="t185" style="left:400.92px;top:333.00px;font-size:13.5px;color:#2b2b2b;letter-spacing:0.0000px;transform-origin:0 50%;transform:scaleX(1.08018);">on</span>
<span class="t" id="t186" style="left:420.62px;top:333.00px;font-size:13.5px;color:#2b2b2b;letter-spacing:0.0000px;transform-origin:0 50%;transform:scaleX(1.04766);">all</span>
<span class="t" id="t187" style="left:438.24px;top:333.00px;font-size:13.5px;color:#2b2b2b;letter-spacing:0.0000px;transform-origin:0 50%;transform:scaleX(1.03248);">variables</span>
<span class="t" id="t188" style="left:497.49px;top:333.00px;font-size:13.5px;color:#2b2b2b;letter-spacing:0.0000px;transform-origin:0 50%;transform:scaleX(1.10486);">for;</span>
<span class="t" id="t189" style="left:522.52px;top:333.00px;font-size:13.5px;color:#2b2b2b;letter-spacing:0.0000px;transform-origin:0 50%;transform:scaleX(1.03613);">lines</span>
<span class="t" id="t190" style="left:313.20px;top:350.00px;font-size:13.5px;color:#2b2b2b;letter-spacing:0.0000px;transform-origin:0 50%;transform:scaleX(1.01974);">crossed</span>
<span class="t" id="t191" style="left:364.88px;top:350.00px;font-size:13.5px;color:#2b2b2b;letter-spacing:0.0000px;transform-origin:0 50%;transform:scaleX(1.09890);">in</span>
<span class="t" id="t192" style="left:379.90px;top:350.00px;font-size:13.5px;color:#2b2b2b;letter-spacing:0.0000px;transform-origin:0 50%;transform:scaleX(1.08462);">the</span>
<span class="t" id="t193" style="left:403.73px;top:350.00px;font-size:13.5px;color:#2b2b2b;letter-spacing:0.0000px;transform-origin:0 50%;transform:scaleX(1.03943);">centre,</span>
<span class="t" id="t194" style="left:450.10px;top:350.00px;font-size:13.5px;color:#2b2b2b;letter-spacing:0.0000px;transform-origin:0 50%;transform:scaleX(1.03613);">lines</span>
<span class="t" id="t195" style="left:482.34px;top:350.00px;font-size:13.5px;color:#2b2b2b;letter-spacing:0.0000px;transform-origin:0 50%;transform:scaleX(1.01974);">crossed</span>
<span class="t" id="t196" style="left:534.01px;top:350.00px;font-size:13.5px;color:#2b2b2b;letter-spacing:0.0000px;transform-origin:0 50%;transform:scaleX(1.09890);">in</span>
<span class="t" id="t197" style="left:549.03px;top:350.00px;font-size:13.5px;color:#2b2b2b;letter-spacing:0.0000px;transform-origin:0 50%;transform:scaleX(1.08462);">the</span>
<span class="t" id="t198" style="left:313.20px;top:368.00px;font-size:13.5px;color:#2b2b2b;letter-spacing:0.0000px;transform-origin:0 50%;transform:scaleX(1.10023);">outer</span>
<span class="t" id="t199" style="left:350.53px;top:368.00px;font-size:13.5px;color:#2b2b2b;letter-spacing:0.0000px;transform-origin:0 50%;transform:scaleX(1.04416);">region,</span>
<span class="t" id="t200" style="left:397.10px;top:368.00px;font-size:13.5px;color:#2b2b2b;letter-spacing:0.0000px;transform-origin:0 50%;transform:scaleX(1.08462);">the</span>
<span class="t" id="t201" style="left:420.93px;top:368.00px;font-size:13.5px;color:#2b2b2b;letter-spacing:0.0000px;transform-origin:0 50%;transform:scaleX(1.08914);">number</span>
<span class="t" id="t202" style="left:474.26px;top:368.00px;font-size:13.5px;color:#2b2b2b;letter-spacing:0.0000px;transform-origin:0 50%;transform:scaleX(1.11590);">of</span>
<span class="t" id="t203" style="left:490.29px;top:368.00px;font-size:13.5px;color:#2b2b2b;letter-spacing:0.0000px;transform-origin:0 50%;transform:scaleX(1.02589);">rears,</span>
<span class="t" id="t204" style="left:529.16px;top:368.00px;font-size:13.5px;color:#2b2b2b;letter-spacing:0.0000px;transform-origin:0 50%;transform:scaleX(1.09586);">time</span>
<span class="t" id="t205" style="left:560.59px;top:368.00px;font-size:13.5px;color:#2b2b2b;letter-spacing:0.0000px;transform-origin:0 50%;transform:scaleX(1.05662);">spent</span>
<span class="t" id="t206" style="left:313.20px;top:386.00px;font-size:13.5px;color:#2b2b2b;letter-spacing:0.0000px;transform-origin:0 50%;transform:scaleX(1.05557);">grooming,</span>
<span class="t" id="t207" style="left:380.05px;top:386.00px;font-size:13.5px;color:#2b2b2b;letter-spacing:0.0000px;transform-origin:0 50%;transform:scaleX(1.09586);">time</span>
<span class="t" id="t208" style="left:411.47px;top:386.00px;font-size:13.5px;color:#2b2b2b;letter-spacing:0.0000px;transform-origin:0 50%;transform:scaleX(1.05662);">spent</span>
<span class="t" id="t209" style="left:449.84px;top:386.00px;font-size:13.5px;color:#2b2b2b;letter-spacing:0.0000px;transform-origin:0 50%;transform:scaleX(1.09890);">in</span>
<span class="t" id="t210" style="left:464.86px;top:386.00px;font-size:13.5px;color:#2b2b2b;letter-spacing:0.0000px;transform-origin:0 50%;transform:scaleX(1.08462);">the</span>
<span class="t" id="t211" style="left:488.69px;top:386.00px;font-size:13.5px;color:#2b2b2b;letter-spacing:0.0000px;transform-origin:0 50%;transform:scaleX(1.03944);">centre,</span>
<span class="t" id="t212" style="left:535.06px;top:386.00px;font-size:13.5px;color:#2b2b2b;letter-spacing:0.0000px;transform-origin:0 50%;transform:scaleX(1.05493);">and</span>
<span class="t" id="t213" style="left:313.20px;top:403.00px;font-size:13.5px;color:#2b2b2b;letter-spacing:0.0000px;transform-origin:0 50%;transform:scaleX(1.03434);">latency</span>
<span class="t" id="t214" style="left:360.91px;top:403.00px;font-size:13.5px;color:#2b2b2b;letter-spacing:0.0000px;transform-origin:0 50%;transform:scaleX(1.13266);">to</span>
<span class="t" id="t215" style="left:377.14px;top:403.00px;font-size:13.5px;color:#2b2b2b;letter-spacing:0.0000px;transform-origin:0 50%;transform:scaleX(1.00695);">leave</span>
<span class="t" id="t216" style="left:413.11px;top:403.00px;font-size:13.5px;color:#2b2b2b;letter-spacing:0.0000px;transform-origin:0 50%;transform:scaleX(1.08462);">the</span>
<span class="t" id="t217" style="left:436.94px;top:403.00px;font-size:13.5px;color:#2b2b2b;letter-spacing:0.0000px;transform-origin:0 50%;transform:scaleX(1.03943);">centre,</span>
<span class="t" id="t218" style="left:483.31px;top:403.00px;font-size:13.5px;color:#2b2b2b;letter-spacing:0.0000px;transform-origin:0 50%;transform:scaleX(1.09890);">in</span>
<span class="t" id="t219" style="left:498.33px;top:403.00px;font-size:13.5px;color:#2b2b2b;letter-spacing:0.0000px;transform-origin:0 50%;transform:scaleX(1.08462);">the</span>
<span class="t" id="t220" style="left:522.17px;top:403.00px;font-size:13.5px;color:#2b2b2b;letter-spacing:0.0000px;transform-origin:0 50%;transform:scaleX(1.08144);">parent</span>
<span class="t" id="t221" style="left:313.20px;top:421.00px;font-size:13.5px;color:#2b2b2b;letter-spacing:0.0000px;transform-origin:0 50%;transform:scaleX(1.07820);">population.</span>
<span class="t" id="t222" style="left:292.10px;top:456.00px;font-size:13.5px;color:#1f1f1f;letter-spacing:0.0546px;font-weight:700;">Defensive Burying Test</span>
<span class="t" id="t223" style="left:313.20px;top:474.00px;font-size:13.5px;color:#2b2b2b;letter-spacing:0.0000px;transform-origin:0 50%;transform:scaleX(1.03181);">Animals</span>
<span class="t" id="t224" style="left:366.21px;top:474.00px;font-size:13.5px;color:#2b2b2b;letter-spacing:0.0000px;transform-origin:0 50%;transform:scaleX(1.12651);">from</span>
<span class="t" id="t225" style="left:400.09px;top:474.00px;font-size:13.5px;color:#2b2b2b;letter-spacing:0.0000px;transform-origin:0 50%;transform:scaleX(1.08462);">the</span>
<span class="t" id="t226" style="left:423.92px;top:474.00px;font-size:13.5px;color:#2b2b2b;letter-spacing:0.0000px;transform-origin:0 50%;transform:scaleX(1.01946);">same</span>
<span class="t" id="t227" style="left:461.04px;top:474.00px;font-size:13.5px;color:#2b2b2b;letter-spacing:0.0000px;transform-origin:0 50%;transform:scaleX(0.97494);">cage</span>
<span class="t" id="t228" style="left:493.05px;top:474.00px;font-size:13.5px;color:#2b2b2b;letter-spacing:0.0000px;transform-origin:0 50%;transform:scaleX(1.05154);">were</span>
<span class="t" id="t229" style="left:527.29px;top:474.00px;font-size:13.5px;color:#2b2b2b;letter-spacing:0.0000px;transform-origin:0 50%;transform:scaleX(1.07520);">habituated</span>
<span class="t" id="t230" style="left:313.20px;top:491.00px;font-size:13.5px;color:#2b2b2b;letter-spacing:0.0000px;transform-origin:0 50%;transform:scaleX(1.14260);">for</span>
<span class="t" id="t231" style="left:334.68px;top:491.00px;font-size:13.5px;color:#2b2b2b;letter-spacing:0.0000px;transform-origin:0 50%;transform:scaleX(1.01263);">15</span>
<span class="t" id="t232" style="left:353.36px;top:491.00px;font-size:13.5px;color:#2b2b2b;letter-spacing:0.0000px;transform-origin:0 50%;transform:scaleX(1.07207);">minutes</span>
<span class="t" id="t233" style="left:407.51px;top:491.00px;font-size:13.5px;color:#2b2b2b;letter-spacing:0.0000px;transform-origin:0 50%;transform:scaleX(1.00496);">each</span>
<span class="t" id="t234" style="left:440.40px;top:491.00px;font-size:13.5px;color:#2b2b2b;letter-spacing:0.0000px;transform-origin:0 50%;transform:scaleX(1.02520);">day</span>
<span class="t" id="t235" style="left:466.20px;top:491.00px;font-size:13.5px;color:#2b2b2b;letter-spacing:0.0000px;transform-origin:0 50%;transform:scaleX(1.14260);">for</span>
<span class="t" id="t236" style="left:487.67px;top:491.00px;font-size:13.5px;color:#2b2b2b;letter-spacing:0.0000px;transform-origin:0 50%;transform:scaleX(1.08161);">three</span>
<span class="t" id="t237" style="left:524.43px;top:491.00px;font-size:13.5px;color:#2b2b2b;letter-spacing:0.0000px;transform-origin:0 50%;transform:scaleX(1.00559);">days</span>
<span class="t" id="t238" style="left:556.59px;top:491.00px;font-size:13.5px;color:#2b2b2b;letter-spacing:0.0000px;transform-origin:0 50%;transform:scaleX(1.09890);">in</span>
<span class="t" id="t239" style="left:571.60px;top:491.00px;font-size:13.5px;color:#2b2b2b;letter-spacing:0.0000px;transform-origin:0 50%;transform:scaleX(0.98663);">a</span>
<span class="t" id="t240" style="left:313.20px;top:509.00px;font-size:13.5px;color:#2b2b2b;letter-spacing:0.0000px;transform-origin:0 50%;transform:scaleX(0.99465);">Plexiglas</span>
<span class="t" id="t241" style="left:370.41px;top:509.00px;font-size:13.5px;color:#2b2b2b;letter-spacing:0.0000px;transform-origin:0 50%;transform:scaleX(1.05116);">inclosure</span>
<span class="t" id="t242" style="left:430.66px;top:509.00px;font-size:13.5px;color:#2b2b2b;letter-spacing:0.0000px;transform-origin:0 50%;transform:scaleX(1.10900);">with</span>
<span class="t" id="t243" style="left:460.76px;top:509.00px;font-size:13.5px;color:#2b2b2b;letter-spacing:0.0000px;transform-origin:0 50%;transform:scaleX(1.04993);">bedding.</span>
<span class="t" id="t244" style="left:313.20px;top:527.00px;font-size:13.5px;color:#2b2b2b;letter-spacing:0.0000px;transform-origin:0 50%;transform:scaleX(0.99029);">The</span>
<span class="t" id="t245" style="left:339.70px;top:527.00px;font-size:13.5px;color:#2b2b2b;letter-spacing:0.0000px;transform-origin:0 50%;transform:scaleX(1.13194);">fourth</span>
<span class="t" id="t246" style="left:382.25px;top:527.00px;font-size:13.5px;color:#2b2b2b;letter-spacing:0.0000px;transform-origin:0 50%;transform:scaleX(1.02520);">day</span>
<span class="t" id="t247" style="left:408.05px;top:527.00px;font-size:13.5px;color:#2b2b2b;letter-spacing:0.0000px;transform-origin:0 50%;transform:scaleX(1.00545);">saw</span>
<span class="t" id="t248" style="left:435.66px;top:527.00px;font-size:13.5px;color:#2b2b2b;letter-spacing:0.0000px;transform-origin:0 50%;transform:scaleX(1.08462);">the</span>
<span class="t" id="t249" style="left:459.49px;top:527.00px;font-size:13.5px;color:#2b2b2b;letter-spacing:0.0000px;transform-origin:0 50%;transform:scaleX(1.09998);">introduction</span>
<span class="t" id="t250" style="left:539.73px;top:527.00px;font-size:13.5px;color:#2b2b2b;letter-spacing:0.0000px;transform-origin:0 50%;transform:scaleX(1.11590);">of</span>
<span class="t" id="t251" style="left:555.77px;top:527.00px;font-size:13.5px;color:#2b2b2b;letter-spacing:0.0000px;transform-origin:0 50%;transform:scaleX(0.98663);">a</span>
<span class="t" id="t252" style="left:313.20px;top:544.00px;font-size:13.5px;color:#2b2b2b;letter-spacing:0.0000px;transform-origin:0 50%;transform:scaleX(1.06486);">continually</span>
<span class="t" id="t253" style="left:384.60px;top:544.00px;font-size:13.5px;color:#2b2b2b;letter-spacing:0.0000px;transform-origin:0 50%;transform:scaleX(1.06857);">electrified</span>
<span class="t" id="t254" style="left:449.80px;top:544.00px;font-size:13.5px;color:#2b2b2b;letter-spacing:0.0000px;transform-origin:0 50%;transform:scaleX(1.10377);">prod</span>
<span class="t" id="t255" style="left:483.10px;top:544.00px;font-size:13.5px;color:#2b2b2b;letter-spacing:0.0000px;transform-origin:0 50%;transform:scaleX(1.11012);">that</span>
<span class="t" id="t256" style="left:511.58px;top:544.00px;font-size:13.5px;color:#2b2b2b;letter-spacing:0.0000px;transform-origin:0 50%;transform:scaleX(1.00648);">shocks</span>
<span class="t" id="t257" style="left:557.35px;top:544.00px;font-size:13.5px;color:#2b2b2b;letter-spacing:0.0000px;transform-origin:0 50%;transform:scaleX(1.08462);">the</span>
<span class="t" id="t258" style="left:581.18px;top:544.00px;font-size:13.5px;color:#2b2b2b;letter-spacing:0.0000px;transform-origin:0 50%;transform:scaleX(1.11412);">rat</span>
<span class="t" id="t259" style="left:313.20px;top:562.00px;font-size:13.5px;color:#2b2b2b;letter-spacing:0.0000px;transform-origin:0 50%;transform:scaleX(1.05999);">when</span>
<span class="t" id="t260" style="left:350.88px;top:562.00px;font-size:13.5px;color:#2b2b2b;letter-spacing:0.0000px;transform-origin:0 50%;transform:scaleX(1.19692);">it</span>
<span class="t" id="t261" style="left:362.42px;top:562.00px;font-size:13.5px;color:#2b2b2b;letter-spacing:0.0000px;transform-origin:0 50%;transform:scaleX(1.04267);">touches</span>
<span class="t" id="t262" style="left:415.20px;top:562.00px;font-size:13.5px;color:#2b2b2b;letter-spacing:0.0000px;transform-origin:0 50%;transform:scaleX(1.10572);">it.</span>
<span class="t" id="t263" style="left:313.20px;top:580.00px;font-size:13.5px;color:#2b2b2b;letter-spacing:0.0000px;transform-origin:0 50%;transform:scaleX(1.03062);">On</span>
<span class="t" id="t264" style="left:335.23px;top:580.00px;font-size:13.5px;color:#2b2b2b;letter-spacing:0.0000px;transform-origin:0 50%;transform:scaleX(1.08462);">the</span>
<span class="t" id="t265" style="left:359.06px;top:580.00px;font-size:13.5px;color:#2b2b2b;letter-spacing:0.0000px;transform-origin:0 50%;transform:scaleX(1.13194);">fourth</span>
<span class="t" id="t266" style="left:401.62px;top:580.00px;font-size:13.5px;color:#2b2b2b;letter-spacing:0.0000px;transform-origin:0 50%;transform:scaleX(1.00263);">day,</span>
<span class="t" id="t267" style="left:430.68px;top:580.00px;font-size:13.5px;color:#2b2b2b;letter-spacing:0.0000px;transform-origin:0 50%;transform:scaleX(1.00496);">each</span>
<span class="t" id="t268" style="left:463.57px;top:580.00px;font-size:13.5px;color:#2b2b2b;letter-spacing:0.0000px;transform-origin:0 50%;transform:scaleX(1.05981);">animal</span>
<span class="t" id="t269" style="left:509.19px;top:580.00px;font-size:13.5px;color:#2b2b2b;letter-spacing:0.0000px;transform-origin:0 50%;transform:scaleX(1.00545);">was</span>
<span class="t" id="t270" style="left:536.80px;top:580.00px;font-size:13.5px;color:#2b2b2b;letter-spacing:0.0000px;transform-origin:0 50%;transform:scaleX(1.07658);">randomly</span>
<span class="t" id="t271" style="left:313.20px;top:597.00px;font-size:13.5px;color:#2b2b2b;letter-spacing:0.0000px;transform-origin:0 50%;transform:scaleX(1.08032);">introduced</span>
<span class="t" id="t272" style="left:384.77px;top:597.00px;font-size:13.5px;color:#2b2b2b;letter-spacing:0.0000px;transform-origin:0 50%;transform:scaleX(1.11636);">into</span>
<span class="t" id="t273" style="left:412.55px;top:597.00px;font-size:13.5px;color:#2b2b2b;letter-spacing:0.0000px;transform-origin:0 50%;transform:scaleX(1.08462);">the</span>
<span class="t" id="t274" style="left:436.39px;top:597.00px;font-size:13.5px;color:#2b2b2b;letter-spacing:0.0000px;transform-origin:0 50%;transform:scaleX(1.04812);">chamber.</span>
<span class="t" id="t275" style="left:313.20px;top:615.00px;font-size:13.5px;color:#2b2b2b;letter-spacing:0.0000px;transform-origin:0 50%;transform:scaleX(0.99029);">The</span>
<span class="t" id="t276" style="left:339.70px;top:615.00px;font-size:13.5px;color:#2b2b2b;letter-spacing:0.0000px;transform-origin:0 50%;transform:scaleX(1.06841);">test</span>
<span class="t" id="t277" style="left:366.42px;top:615.00px;font-size:13.5px;color:#2b2b2b;letter-spacing:0.0000px;transform-origin:0 50%;transform:scaleX(1.07271);">started</span>
<span class="t" id="t278" style="left:414.17px;top:615.00px;font-size:13.5px;color:#2b2b2b;letter-spacing:0.0000px;transform-origin:0 50%;transform:scaleX(1.05999);">when</span>
<span class="t" id="t279" style="left:451.85px;top:615.00px;font-size:13.5px;color:#2b2b2b;letter-spacing:0.0000px;transform-origin:0 50%;transform:scaleX(1.08462);">the</span>
<span class="t" id="t280" style="left:475.68px;top:615.00px;font-size:13.5px;color:#2b2b2b;letter-spacing:0.0000px;transform-origin:0 50%;transform:scaleX(1.06260);">rats</span>
<span class="t" id="t281" style="left:503.07px;top:615.00px;font-size:13.5px;color:#2b2b2b;letter-spacing:0.0000px;transform-origin:0 50%;transform:scaleX(1.04507);">investigated</span>
<span class="t" id="t282" style="left:581.85px;top:615.00px;font-size:13.5px;color:#2b2b2b;letter-spacing:0.0000px;transform-origin:0 50%;transform:scaleX(1.08462);">the</span>
<span class="t" id="t283" style="left:313.20px;top:633.00px;font-size:13.5px;color:#2b2b2b;letter-spacing:0.0000px;transform-origin:0 50%;transform:scaleX(1.04850);">novel</span>
<span class="t" id="t284" style="left:350.51px;top:633.00px;font-size:13.5px;color:#2b2b2b;letter-spacing:0.0000px;transform-origin:0 50%;transform:scaleX(1.10377);">prod</span>
<span class="t" id="t285" style="left:383.81px;top:633.00px;font-size:13.5px;color:#2b2b2b;letter-spacing:0.0000px;transform-origin:0 50%;transform:scaleX(1.05494);">and</span>
<span class="t" id="t286" style="left:411.04px;top:633.00px;font-size:13.5px;color:#2b2b2b;letter-spacing:0.0000px;transform-origin:0 50%;transform:scaleX(1.06833);">got</span>
<span class="t" id="t287" style="left:434.57px;top:633.00px;font-size:13.5px;color:#2b2b2b;letter-spacing:0.0000px;transform-origin:0 50%;transform:scaleX(1.02026);">shocked.</span>
<span class="t" id="t288" style="left:313.20px;top:650.00px;font-size:13.5px;color:#2b2b2b;letter-spacing:0.0000px;transform-origin:0 50%;transform:scaleX(0.99029);">The</span>
<span class="t" id="t289" style="left:339.70px;top:650.00px;font-size:13.5px;color:#2b2b2b;letter-spacing:0.0000px;transform-origin:0 50%;transform:scaleX(1.07746);">following</span>
<span class="t" id="t290" style="left:399.77px;top:650.00px;font-size:13.5px;color:#2b2b2b;letter-spacing:0.0000px;transform-origin:0 50%;transform:scaleX(1.01263);">15</span>
<span class="t" id="t291" style="left:418.45px;top:650.00px;font-size:13.5px;color:#2b2b2b;letter-spacing:0.0000px;transform-origin:0 50%;transform:scaleX(1.07207);">minutes</span>
<span class="t" id="t292" style="left:472.60px;top:650.00px;font-size:13.5px;color:#2b2b2b;letter-spacing:0.0000px;transform-origin:0 50%;transform:scaleX(1.05154);">were</span>
<span class="t" id="t293" style="left:506.84px;top:650.00px;font-size:13.5px;color:#2b2b2b;letter-spacing:0.0000px;transform-origin:0 50%;transform:scaleX(1.06173);">recorded</span>
<span class="t" id="t294" style="left:650.80px;top:173.00px;font-size:13.6px;color:#1f1f1f;letter-spacing:0.0762px;font-weight:700;-webkit-text-stroke:0.3px #1f1f1f;">Table 1A</span>
<span class="t" id="t295" style="left:810.50px;top:296.00px;font-size:13.6px;color:#1f1f1f;letter-spacing:0.0043px;font-weight:700;-webkit-text-stroke:0.3px #1f1f1f;">Table 1B</span>
<span class="t" id="t296" style="left:654.80px;top:497.00px;font-size:13.5px;color:#1f1f1f;letter-spacing:-0.0745px;font-weight:700;-webkit-text-stroke:0.15px #1f1f1f;">Figure 1</span>
<span class="t" id="t297" style="left:639.63px;top:432.00px;font-size:13.5px;color:#2b2b2b;letter-spacing:0.0000px;transform-origin:0 50%;transform:scaleX(1.01924);">Tables</span>
<span class="t" id="t298" style="left:684.50px;top:432.00px;font-size:13.5px;color:#2b2b2b;letter-spacing:0.0000px;transform-origin:0 50%;transform:scaleX(0.99915);">1A</span>
<span class="t" id="t299" style="left:704.57px;top:432.00px;font-size:13.5px;color:#2b2b2b;letter-spacing:0.0000px;transform-origin:0 50%;transform:scaleX(1.08476);">and</span>
<span class="t" id="t300" style="left:732.57px;top:432.00px;font-size:13.5px;color:#2b2b2b;letter-spacing:0.0000px;transform-origin:0 50%;transform:scaleX(1.01171);">1B</span>
<span class="t" id="t301" style="left:752.84px;top:432.00px;font-size:13.5px;color:#2b2b2b;letter-spacing:0.0000px;transform-origin:0 50%;transform:scaleX(1.09238);">contain</span>
<span class="t" id="t302" style="left:803.97px;top:432.00px;font-size:13.5px;color:#2b2b2b;letter-spacing:0.0000px;transform-origin:0 50%;transform:scaleX(1.06151);">means</span>
<span class="t" id="t303" style="left:850.56px;top:432.00px;font-size:13.5px;color:#2b2b2b;letter-spacing:0.0000px;transform-origin:0 50%;transform:scaleX(1.08476);">and</span>
<span class="t" id="t304" style="left:878.56px;top:432.00px;font-size:13.5px;color:#2b2b2b;letter-spacing:0.0000px;transform-origin:0 50%;transform:scaleX(1.09320);">standard</span>
<span class="t" id="t305" style="left:939.56px;top:432.00px;font-size:13.5px;color:#2b2b2b;letter-spacing:0.0000px;transform-origin:0 50%;transform:scaleX(1.08028);">deviations</span>
<span class="t" id="t306" style="left:1008.80px;top:432.00px;font-size:13.5px;color:#2b2b2b;letter-spacing:0.0000px;transform-origin:0 50%;transform:scaleX(1.17492);">for</span>
<span class="t" id="t307" style="left:1030.89px;top:432.00px;font-size:13.5px;color:#2b2b2b;letter-spacing:0.0000px;transform-origin:0 50%;transform:scaleX(1.09212);">rearing</span>
<span class="t" id="t308" style="left:1080.35px;top:432.00px;font-size:13.5px;color:#2b2b2b;letter-spacing:0.0000px;transform-origin:0 50%;transform:scaleX(1.08476);">and</span>
<span class="t" id="t309" style="left:1108.35px;top:432.00px;font-size:13.5px;color:#2b2b2b;letter-spacing:0.0000px;transform-origin:0 50%;transform:scaleX(1.09833);">grooming</span>
<span class="t" id="t310" style="left:845.14px;top:449.00px;font-size:13.5px;color:#2b2b2b;letter-spacing:0.0000px;transform-origin:0 50%;transform:scaleX(1.12451);">traits</span>
<span class="t" id="t311" style="left:881.61px;top:449.00px;font-size:13.5px;color:#2b2b2b;letter-spacing:0.0000px;transform-origin:0 50%;transform:scaleX(1.12998);">in</span>
<span class="t" id="t312" style="left:897.06px;top:449.00px;font-size:13.5px;color:#2b2b2b;letter-spacing:0.0000px;transform-origin:0 50%;transform:scaleX(1.13910);">both</span>
<span class="t" id="t313" style="left:930.56px;top:449.00px;font-size:13.5px;color:#2b2b2b;letter-spacing:0.0000px;transform-origin:0 50%;transform:scaleX(1.05689);">tests.</span>
<span class="t" id="t314" style="left:647.04px;top:640.00px;font-size:13.5px;color:#2b2b2b;letter-spacing:0.0000px;transform-origin:0 50%;transform:scaleX(0.99029);">The</span>
<span class="t" id="t315" style="left:673.54px;top:640.00px;font-size:13.5px;color:#2b2b2b;letter-spacing:0.0000px;transform-origin:0 50%;transform:scaleX(1.03232);">means</span>
<span class="t" id="t316" style="left:718.85px;top:640.00px;font-size:13.5px;color:#2b2b2b;letter-spacing:0.0000px;transform-origin:0 50%;transform:scaleX(1.05493);">and</span>
<span class="t" id="t317" style="left:746.08px;top:640.00px;font-size:13.5px;color:#2b2b2b;letter-spacing:0.0000px;transform-origin:0 50%;transform:scaleX(0.97349);">95%</span>
<span class="t" id="t318" style="left:775.86px;top:640.00px;font-size:13.5px;color:#2b2b2b;letter-spacing:0.0000px;transform-origin:0 50%;transform:scaleX(1.04324);">confidence</span>
<span class="t" id="t319" style="left:847.46px;top:640.00px;font-size:13.5px;color:#2b2b2b;letter-spacing:0.0000px;transform-origin:0 50%;transform:scaleX(1.05588);">intervals</span>
<span class="t" id="t320" style="left:904.01px;top:640.00px;font-size:13.5px;color:#2b2b2b;letter-spacing:0.0000px;transform-origin:0 50%;transform:scaleX(1.11590);">of</span>
<span class="t" id="t321" style="left:920.04px;top:640.00px;font-size:13.5px;color:#2b2b2b;letter-spacing:0.0000px;transform-origin:0 50%;transform:scaleX(1.05307);">those</span>
<span class="t" id="t322" style="left:958.29px;top:640.00px;font-size:13.5px;color:#2b2b2b;letter-spacing:0.0000px;transform-origin:0 50%;transform:scaleX(1.05427);">data</span>
<span class="t" id="t323" style="left:989.46px;top:640.00px;font-size:13.5px;color:#2b2b2b;letter-spacing:0.0000px;transform-origin:0 50%;transform:scaleX(1.04214);">are</span>
<span class="t" id="t324" style="left:1013.26px;top:640.00px;font-size:13.5px;color:#2b2b2b;letter-spacing:0.0000px;transform-origin:0 50%;transform:scaleX(1.04017);">graphically</span>
<span class="t" id="t325" style="left:1083.87px;top:640.00px;font-size:13.5px;color:#2b2b2b;letter-spacing:0.0000px;transform-origin:0 50%;transform:scaleX(1.05709);">presented</span>
<span class="t" id="t326" style="left:1150.81px;top:640.00px;font-size:13.5px;color:#2b2b2b;letter-spacing:0.0000px;transform-origin:0 50%;transform:scaleX(1.09891);">in</span>
<span class="t" id="t327" style="left:890.34px;top:658.00px;font-size:13.5px;color:#2b2b2b;letter-spacing:0.0000px;transform-origin:0 50%;transform:scaleX(0.95673);">Fig.1</span>
<span class="t" id="t328" style="left:34.36px;top:734.00px;font-size:13.5px;color:#2b2b2b;letter-spacing:0.0000px;transform-origin:0 50%;transform:scaleX(0.97867);">To</span>
<span class="t" id="t329" style="left:53.25px;top:734.00px;font-size:13.5px;color:#2b2b2b;letter-spacing:0.0000px;transform-origin:0 50%;transform:scaleX(1.02849);">address</span>
<span class="t" id="t330" style="left:106.11px;top:734.00px;font-size:13.5px;color:#2b2b2b;letter-spacing:0.0000px;transform-origin:0 50%;transform:scaleX(1.07946);">whether</span>
<span class="t" id="t331" style="left:161.43px;top:734.00px;font-size:13.5px;color:#2b2b2b;letter-spacing:0.0000px;transform-origin:0 50%;transform:scaleX(1.08462);">the</span>
<span class="t" id="t332" style="left:185.26px;top:734.00px;font-size:13.5px;color:#2b2b2b;letter-spacing:0.0000px;transform-origin:0 50%;transform:scaleX(1.03050);">genetic</span>
<span class="t" id="t333" style="left:233.60px;top:734.00px;font-size:13.5px;color:#2b2b2b;letter-spacing:0.0000px;transform-origin:0 50%;transform:scaleX(1.06467);">architecture</span>
<span class="t" id="t334" style="left:312.17px;top:734.00px;font-size:13.5px;color:#2b2b2b;letter-spacing:0.0000px;transform-origin:0 50%;transform:scaleX(1.11590);">of</span>
<span class="t" id="t335" style="left:328.20px;top:734.00px;font-size:13.5px;color:#2b2b2b;letter-spacing:0.0000px;transform-origin:0 50%;transform:scaleX(0.98664);">a</span>
<span class="t" id="t336" style="left:339.08px;top:734.00px;font-size:13.5px;color:#2b2b2b;letter-spacing:0.0000px;transform-origin:0 50%;transform:scaleX(1.06343);">behaviour</span>
<span class="t" id="t337" style="left:51.93px;top:752.00px;font-size:13.5px;color:#2b2b2b;letter-spacing:0.0000px;transform-origin:0 50%;transform:scaleX(0.99824);">is</span>
<span class="t" id="t338" style="left:65.12px;top:752.00px;font-size:13.5px;color:#2b2b2b;letter-spacing:0.0000px;transform-origin:0 50%;transform:scaleX(1.02456);">changed</span>
<span class="t" id="t339" style="left:121.67px;top:752.00px;font-size:13.5px;color:#2b2b2b;letter-spacing:0.0000px;transform-origin:0 50%;transform:scaleX(1.04552);">by</span>
<span class="t" id="t340" style="left:140.05px;top:752.00px;font-size:13.5px;color:#2b2b2b;letter-spacing:0.0000px;transform-origin:0 50%;transform:scaleX(1.08462);">the</span>
<span class="t" id="t341" style="left:163.88px;top:752.00px;font-size:13.5px;color:#2b2b2b;letter-spacing:0.0000px;transform-origin:0 50%;transform:scaleX(1.07354);">environmental</span>
<span class="t" id="t342" style="left:258.38px;top:752.00px;font-size:13.5px;color:#2b2b2b;letter-spacing:0.0000px;transform-origin:0 50%;transform:scaleX(1.06856);">context</span>
<span class="t" id="t343" style="left:308.36px;top:752.00px;font-size:13.5px;color:#2b2b2b;letter-spacing:0.0000px;transform-origin:0 50%;transform:scaleX(1.09890);">in</span>
<span class="t" id="t344" style="left:323.38px;top:752.00px;font-size:13.5px;color:#2b2b2b;letter-spacing:0.0000px;transform-origin:0 50%;transform:scaleX(1.05626);">which</span>
<span class="t" id="t345" style="left:363.30px;top:752.00px;font-size:13.5px;color:#2b2b2b;letter-spacing:0.0000px;transform-origin:0 50%;transform:scaleX(1.19692);">it</span>
<span class="t" id="t346" style="left:374.84px;top:752.00px;font-size:13.5px;color:#2b2b2b;letter-spacing:0.0000px;transform-origin:0 50%;transform:scaleX(0.99823);">is</span>
<span class="t" id="t347" style="left:186.26px;top:769.00px;font-size:13.5px;color:#2b2b2b;letter-spacing:0.0000px;transform-origin:0 50%;transform:scaleX(1.02707);">expressed</span>
<span class="t" id="t348" style="left:469.70px;top:734.00px;font-size:13.5px;color:#2b2b2b;letter-spacing:0.0000px;transform-origin:0 50%;transform:scaleX(0.99125);">This</span>
<span class="t" id="t349" style="left:498.46px;top:734.00px;font-size:13.5px;color:#2b2b2b;letter-spacing:0.0000px;transform-origin:0 50%;transform:scaleX(1.05838);">study</span>
<span class="t" id="t350" style="left:536.09px;top:734.00px;font-size:13.5px;color:#2b2b2b;letter-spacing:0.0000px;transform-origin:0 50%;transform:scaleX(1.07908);">determined</span>
<span class="t" id="t351" style="left:612.44px;top:734.00px;font-size:13.5px;color:#2b2b2b;letter-spacing:0.0000px;transform-origin:0 50%;transform:scaleX(1.08462);">the</span>
<span class="t" id="t352" style="left:636.27px;top:734.00px;font-size:13.5px;color:#2b2b2b;letter-spacing:0.0000px;transform-origin:0 50%;transform:scaleX(1.03050);">genetic</span>
<span class="t" id="t353" style="left:684.61px;top:734.00px;font-size:13.5px;color:#2b2b2b;letter-spacing:0.0000px;transform-origin:0 50%;transform:scaleX(1.06467);">architecture</span>
<span class="t" id="t354" style="left:763.18px;top:734.00px;font-size:13.5px;color:#2b2b2b;letter-spacing:0.0000px;transform-origin:0 50%;transform:scaleX(1.06646);">underlying</span>
<span class="t" id="t355" style="left:833.08px;top:734.00px;font-size:13.5px;color:#2b2b2b;letter-spacing:0.0000px;transform-origin:0 50%;transform:scaleX(1.10065);">two</span>
<span class="t" id="t356" style="left:859.68px;top:734.00px;font-size:13.5px;color:#2b2b2b;letter-spacing:0.0000px;transform-origin:0 50%;transform:scaleX(1.03101);">categorically</span>
<span class="t" id="t357" style="left:940.52px;top:734.00px;font-size:13.5px;color:#2b2b2b;letter-spacing:0.0000px;transform-origin:0 50%;transform:scaleX(1.07587);">distinct</span>
<span class="t" id="t358" style="left:989.20px;top:734.00px;font-size:13.5px;color:#2b2b2b;letter-spacing:0.0000px;transform-origin:0 50%;transform:scaleX(1.04140);">behaviours,</span>
<span class="t" id="t359" style="left:1065.35px;top:734.00px;font-size:13.5px;color:#2b2b2b;letter-spacing:0.0000px;transform-origin:0 50%;transform:scaleX(1.06209);">rearing</span>
<span class="t" id="t360" style="left:1113.45px;top:734.00px;font-size:13.5px;color:#2b2b2b;letter-spacing:0.0000px;transform-origin:0 50%;transform:scaleX(1.05493);">and</span>
<span class="t" id="t361" style="left:469.70px;top:752.00px;font-size:13.5px;color:#2b2b2b;letter-spacing:0.0000px;transform-origin:0 50%;transform:scaleX(1.05557);">grooming,</span>
<span class="t" id="t362" style="left:536.55px;top:752.00px;font-size:13.5px;color:#2b2b2b;letter-spacing:0.0000px;transform-origin:0 50%;transform:scaleX(1.00762);">seen</span>
<span class="t" id="t363" style="left:569.52px;top:752.00px;font-size:13.5px;color:#2b2b2b;letter-spacing:0.0000px;transform-origin:0 50%;transform:scaleX(1.09890);">in</span>
<span class="t" id="t364" style="left:584.53px;top:752.00px;font-size:13.5px;color:#2b2b2b;letter-spacing:0.0000px;transform-origin:0 50%;transform:scaleX(1.10065);">two</span>
<span class="t" id="t365" style="left:611.13px;top:752.00px;font-size:13.5px;color:#2b2b2b;letter-spacing:0.0000px;transform-origin:0 50%;transform:scaleX(1.03565);">very</span>
<span class="t" id="t366" style="left:641.02px;top:752.00px;font-size:13.5px;color:#2b2b2b;letter-spacing:0.0000px;transform-origin:0 50%;transform:scaleX(1.10437);">different</span>
<span class="t" id="t367" style="left:698.35px;top:752.00px;font-size:13.5px;color:#2b2b2b;letter-spacing:0.0000px;transform-origin:0 50%;transform:scaleX(1.05777);">behavioural</span>
<span class="t" id="t368" style="left:775.66px;top:752.00px;font-size:13.5px;color:#2b2b2b;letter-spacing:0.0000px;transform-origin:0 50%;transform:scaleX(1.03911);">contexts,</span>
<span class="t" id="t369" style="left:835.27px;top:752.00px;font-size:13.5px;color:#2b2b2b;letter-spacing:0.0000px;transform-origin:0 50%;transform:scaleX(1.08462);">the</span>
<span class="t" id="t370" style="left:859.10px;top:752.00px;font-size:13.5px;color:#2b2b2b;letter-spacing:0.0000px;transform-origin:0 50%;transform:scaleX(1.06398);">open-field</span>
<span class="t" id="t371" style="left:925.66px;top:752.00px;font-size:13.5px;color:#2b2b2b;letter-spacing:0.0000px;transform-origin:0 50%;transform:scaleX(1.06841);">test</span>
<span class="t" id="t372" style="left:952.38px;top:752.00px;font-size:13.5px;color:#2b2b2b;letter-spacing:0.0000px;transform-origin:0 50%;transform:scaleX(1.05493);">and</span>
<span class="t" id="t373" style="left:979.61px;top:752.00px;font-size:13.5px;color:#2b2b2b;letter-spacing:0.0000px;transform-origin:0 50%;transform:scaleX(1.08462);">the</span>
<span class="t" id="t374" style="left:1003.44px;top:752.00px;font-size:13.5px;color:#2b2b2b;letter-spacing:0.0000px;transform-origin:0 50%;transform:scaleX(1.04613);">defensive-burying</span>
<span class="t" id="t375" style="left:1118.40px;top:752.00px;font-size:13.5px;color:#2b2b2b;letter-spacing:0.0000px;transform-origin:0 50%;transform:scaleX(1.05044);">test.</span>
<span class="t" id="t376" style="left:469.70px;top:769.00px;font-size:13.5px;color:#2b2b2b;letter-spacing:0.0000px;transform-origin:0 50%;transform:scaleX(1.06446);">Further</span>
<span class="t" id="t377" style="left:519.48px;top:769.00px;font-size:13.5px;color:#2b2b2b;letter-spacing:0.0000px;transform-origin:0 50%;transform:scaleX(1.03086);">research</span>
<span class="t" id="t378" style="left:577.10px;top:769.00px;font-size:13.5px;color:#2b2b2b;letter-spacing:0.0000px;transform-origin:0 50%;transform:scaleX(1.11636);">into</span>
<span class="t" id="t379" style="left:604.88px;top:769.00px;font-size:13.5px;color:#2b2b2b;letter-spacing:0.0000px;transform-origin:0 50%;transform:scaleX(1.05806);">comparing</span>
<span class="t" id="t380" style="left:675.03px;top:769.00px;font-size:13.5px;color:#2b2b2b;letter-spacing:0.0000px;transform-origin:0 50%;transform:scaleX(1.08462);">the</span>
<span class="t" id="t381" style="left:698.87px;top:769.00px;font-size:13.5px;color:#2b2b2b;letter-spacing:0.0000px;transform-origin:0 50%;transform:scaleX(1.05384);">results</span>
<span class="t" id="t382" style="left:744.24px;top:769.00px;font-size:13.5px;color:#2b2b2b;letter-spacing:0.0000px;transform-origin:0 50%;transform:scaleX(1.11590);">of</span>
<span class="t" id="t383" style="left:760.27px;top:769.00px;font-size:13.5px;color:#2b2b2b;letter-spacing:0.0000px;transform-origin:0 50%;transform:scaleX(1.10437);">different</span>
<span class="t" id="t384" style="left:817.61px;top:769.00px;font-size:13.5px;color:#2b2b2b;letter-spacing:0.0000px;transform-origin:0 50%;transform:scaleX(1.07831);">quantitative</span>
<span class="t" id="t385" style="left:895.54px;top:769.00px;font-size:13.5px;color:#2b2b2b;letter-spacing:0.0000px;transform-origin:0 50%;transform:scaleX(1.13893);">trait</span>
<span class="t" id="t386" style="left:924.65px;top:769.00px;font-size:13.5px;color:#2b2b2b;letter-spacing:0.0000px;transform-origin:0 50%;transform:scaleX(1.02542);">locus</span>
<span class="t" id="t387" style="left:960.43px;top:769.00px;font-size:13.5px;color:#2b2b2b;letter-spacing:0.0000px;transform-origin:0 50%;transform:scaleX(0.92399);">(QTL)</span>
<span class="t" id="t388" style="left:996.46px;top:769.00px;font-size:13.5px;color:#2b2b2b;letter-spacing:0.0000px;transform-origin:0 50%;transform:scaleX(1.04331);">studies</span>
<span class="t" id="t389" style="left:1044.56px;top:769.00px;font-size:13.5px;color:#2b2b2b;letter-spacing:0.0000px;transform-origin:0 50%;transform:scaleX(1.06125);">done</span>
<span class="t" id="t390" style="left:1079.91px;top:769.00px;font-size:13.5px;color:#2b2b2b;letter-spacing:0.0000px;transform-origin:0 50%;transform:scaleX(1.08019);">on</span>
<span class="t" id="t391" style="left:1099.61px;top:769.00px;font-size:13.5px;color:#2b2b2b;letter-spacing:0.0000px;transform-origin:0 50%;transform:scaleX(1.07101);">common</span>
<span class="t" id="t392" style="left:469.70px;top:787.00px;font-size:13.5px;color:#2b2b2b;letter-spacing:0.0000px;transform-origin:0 50%;transform:scaleX(1.05220);">strains</span>
<span class="t" id="t393" style="left:515.00px;top:787.00px;font-size:13.5px;color:#2b2b2b;letter-spacing:0.0000px;transform-origin:0 50%;transform:scaleX(1.09890);">in</span>
<span class="t" id="t394" style="left:530.02px;top:787.00px;font-size:13.5px;color:#2b2b2b;letter-spacing:0.0000px;transform-origin:0 50%;transform:scaleX(1.10023);">other</span>
<span class="t" id="t395" style="left:567.35px;top:787.00px;font-size:13.5px;color:#2b2b2b;letter-spacing:0.0000px;transform-origin:0 50%;transform:scaleX(0.99762);">crosses</span>
<span class="t" id="t396" style="left:617.22px;top:787.00px;font-size:13.5px;color:#2b2b2b;letter-spacing:0.0000px;transform-origin:0 50%;transform:scaleX(1.00756);">can</span>
<span class="t" id="t397" style="left:642.63px;top:787.00px;font-size:13.5px;color:#2b2b2b;letter-spacing:0.0000px;transform-origin:0 50%;transform:scaleX(1.00174);">assist</span>
<span class="t" id="t398" style="left:680.67px;top:787.00px;font-size:13.5px;color:#2b2b2b;letter-spacing:0.0000px;transform-origin:0 50%;transform:scaleX(1.09890);">in</span>
<span class="t" id="t399" style="left:695.69px;top:787.00px;font-size:13.5px;color:#2b2b2b;letter-spacing:0.0000px;transform-origin:0 50%;transform:scaleX(1.07946);">whether</span>
<span class="t" id="t400" style="left:751.00px;top:787.00px;font-size:13.5px;color:#2b2b2b;letter-spacing:0.0000px;transform-origin:0 50%;transform:scaleX(0.98663);">a</span>
<span class="t" id="t401" style="left:761.88px;top:787.00px;font-size:13.5px;color:#2b2b2b;letter-spacing:0.0000px;transform-origin:0 50%;transform:scaleX(1.08050);">factor</span>
<span class="t" id="t402" style="left:801.83px;top:787.00px;font-size:13.5px;color:#2b2b2b;letter-spacing:0.0000px;transform-origin:0 50%;transform:scaleX(0.99823);">is</span>
<span class="t" id="t403" style="left:815.02px;top:787.00px;font-size:13.5px;color:#2b2b2b;letter-spacing:0.0000px;transform-origin:0 50%;transform:scaleX(1.03567);">having</span>
<span class="t" id="t404" style="left:859.70px;top:787.00px;font-size:13.5px;color:#2b2b2b;letter-spacing:0.0000px;transform-origin:0 50%;transform:scaleX(1.03662);">separate</span>
<span class="t" id="t405" style="left:917.64px;top:787.00px;font-size:13.5px;color:#2b2b2b;letter-spacing:0.0000px;transform-origin:0 50%;transform:scaleX(1.12318);">or</span>
<span class="t" id="t406" style="left:934.60px;top:787.00px;font-size:13.5px;color:#2b2b2b;letter-spacing:0.0000px;transform-origin:0 50%;transform:scaleX(1.08115);">pleiotropic</span>
<span class="t" id="t407" style="left:1004.60px;top:787.00px;font-size:13.5px;color:#2b2b2b;letter-spacing:0.0000px;transform-origin:0 50%;transform:scaleX(1.04099);">effects</span>
<span class="t" id="t408" style="left:1049.48px;top:787.00px;font-size:13.5px;color:#2b2b2b;letter-spacing:0.0000px;transform-origin:0 50%;transform:scaleX(1.08019);">on</span>
<span class="t" id="t409" style="left:1069.18px;top:787.00px;font-size:13.5px;color:#2b2b2b;letter-spacing:0.0000px;transform-origin:0 50%;transform:scaleX(1.07684);">traits.</span>
</div>
<svg style="left:646.00px;top:201.30px" width="349.70" height="107.30" viewBox="646.00 201.30 349.70 107.30">
<rect x="646.00" y="201.30" width="349.70" height="107.30" fill="#fff"/>
<g fill="#1c1c1c" stroke="#1c1c1c" stroke-width="0.22" font-family="'Liberation Serif',serif" font-size="5.28">
<text x="647.80" y="207.95">Strain/maternal lineage</text>
<text x="710.80" y="207.95">OFT</text>
<text x="859.75" y="207.95">DB</text>
<text x="710.80" y="218.45">Rears, mean ± S.D.</text>
<text x="859.75" y="218.45">Rears, mean ± S.D.</text>
<text x="765.25" y="218.45">Groom time, mean ± S.D.</text>
<text x="914.20" y="218.45">Groom time, mean ± S.D.</text>
<text x="835.00" y="218.45" font-style="italic">n</text>
<text x="984.00" y="218.45" font-style="italic">n</text>
<text x="647.80" y="229.25">Parent</text>
<text x="653.20" y="236.00">F344</text>
<text x="719.63" y="236.00" text-anchor="end">28.8</text><text x="723.60" y="236.00" text-anchor="middle">±</text><text x="727.57" y="236.00">11.6</text>
<text x="777.73" y="236.00" text-anchor="end">178.5</text><text x="781.70" y="236.00" text-anchor="middle">±</text><text x="785.67" y="236.00">88.3</text>
<text x="842.20" y="236.00" text-anchor="end">22</text>
<text x="869.23" y="236.00" text-anchor="end">25.8</text><text x="873.20" y="236.00" text-anchor="middle">±</text><text x="877.17" y="236.00">9.0</text>
<text x="927.03" y="236.00" text-anchor="end">152.0</text><text x="931.00" y="236.00" text-anchor="middle">±</text><text x="934.97" y="236.00">96.8</text>
<text x="991.00" y="236.00" text-anchor="end">18</text>
<text x="653.20" y="242.60">WKY</text>
<text x="719.63" y="242.60" text-anchor="end">20.5</text><text x="723.60" y="242.60" text-anchor="middle">±</text><text x="727.57" y="242.60">10.6</text>
<text x="777.73" y="242.60" text-anchor="end">42.5</text><text x="781.70" y="242.60" text-anchor="middle">±</text><text x="785.67" y="242.60">28.7</text>
<text x="842.20" y="242.60" text-anchor="end">22</text>
<text x="869.23" y="242.60" text-anchor="end">33.8</text><text x="873.20" y="242.60" text-anchor="middle">±</text><text x="877.17" y="242.60">10.6</text>
<text x="927.03" y="242.60" text-anchor="end">97.9</text><text x="931.00" y="242.60" text-anchor="middle">±</text><text x="934.97" y="242.60">71.0</text>
<text x="991.00" y="242.60" text-anchor="end">16</text>
<text x="647.80" y="252.65">F1 generation</text>
<text x="653.20" y="259.25">All F1</text>
<text x="719.63" y="259.25" text-anchor="end">19.0</text><text x="723.60" y="259.25" text-anchor="middle">±</text><text x="727.57" y="259.25">9.6</text>
<text x="777.73" y="259.25" text-anchor="end">65.7</text><text x="781.70" y="259.25" text-anchor="middle">±</text><text x="785.67" y="259.25">51.9</text>
<text x="842.20" y="259.25" text-anchor="end">45</text>
<text x="869.23" y="259.25" text-anchor="end">20.1</text><text x="873.20" y="259.25" text-anchor="middle">±</text><text x="877.17" y="259.25">8.5</text>
<text x="927.03" y="259.25" text-anchor="end">63.5</text><text x="931.00" y="259.25" text-anchor="middle">±</text><text x="934.97" y="259.25">52.3</text>
<text x="991.00" y="259.25" text-anchor="end">34</text>
<text x="653.20" y="265.85">F line</text>
<text x="719.63" y="265.85" text-anchor="end">21.4</text><text x="723.60" y="265.85" text-anchor="middle">±</text><text x="727.57" y="265.85">7.5</text>
<text x="777.73" y="265.85" text-anchor="end">46.8</text><text x="781.70" y="265.85" text-anchor="middle">±</text><text x="785.67" y="265.85">43.8</text>
<text x="842.20" y="265.85" text-anchor="end">12</text>
<text x="869.23" y="265.85" text-anchor="end">22.0</text><text x="873.20" y="265.85" text-anchor="middle">±</text><text x="877.17" y="265.85">6.2</text>
<text x="927.03" y="265.85" text-anchor="end">46.8</text><text x="931.00" y="265.85" text-anchor="middle">±</text><text x="934.97" y="265.85">43.8</text>
<text x="991.00" y="265.85" text-anchor="end">11</text>
<text x="653.20" y="272.30">W line</text>
<text x="719.63" y="272.30" text-anchor="end">18.1</text><text x="723.60" y="272.30" text-anchor="middle">±</text><text x="727.57" y="272.30">10.2</text>
<text x="777.73" y="272.30" text-anchor="end">72.6</text><text x="781.70" y="272.30" text-anchor="middle">±</text><text x="785.67" y="272.30">53.5</text>
<text x="842.20" y="272.30" text-anchor="end">33</text>
<text x="869.23" y="272.30" text-anchor="end">19.2</text><text x="873.20" y="272.30" text-anchor="middle">±</text><text x="877.17" y="272.30">9.4</text>
<text x="927.03" y="272.30" text-anchor="end">71.5</text><text x="931.00" y="272.30" text-anchor="middle">±</text><text x="934.97" y="272.30">55.0</text>
<text x="991.00" y="272.30" text-anchor="end">23</text>
<text x="647.80" y="282.65">F2 generation</text>
<text x="653.20" y="289.10">All F2</text>
<text x="719.63" y="289.10" text-anchor="end">22.6</text><text x="723.60" y="289.10" text-anchor="middle">±</text><text x="727.57" y="289.10">13.2</text>
<text x="777.73" y="289.10" text-anchor="end">105.4</text><text x="781.70" y="289.10" text-anchor="middle">±</text><text x="785.67" y="289.10">71.3</text>
<text x="842.20" y="289.10" text-anchor="end">220</text>
<text x="869.23" y="289.10" text-anchor="end">20.4</text><text x="873.20" y="289.10" text-anchor="middle">±</text><text x="877.17" y="289.10">11.1</text>
<text x="927.03" y="289.10" text-anchor="end">95.3</text><text x="931.00" y="289.10" text-anchor="middle">±</text><text x="934.97" y="289.10">80.9</text>
<text x="991.00" y="289.10" text-anchor="end">204</text>
<text x="653.20" y="295.70">F line</text>
<text x="719.63" y="295.70" text-anchor="end">22.2</text><text x="723.60" y="295.70" text-anchor="middle">±</text><text x="727.57" y="295.70">12.4</text>
<text x="777.73" y="295.70" text-anchor="end">104.7</text><text x="781.70" y="295.70" text-anchor="middle">±</text><text x="785.67" y="295.70">75.4</text>
<text x="842.20" y="295.70" text-anchor="end">108</text>
<text x="869.23" y="295.70" text-anchor="end">19.9</text><text x="873.20" y="295.70" text-anchor="middle">±</text><text x="877.17" y="295.70">11.3</text>
<text x="927.03" y="295.70" text-anchor="end">73.8</text><text x="931.00" y="295.70" text-anchor="middle">±</text><text x="934.97" y="295.70">71.6</text>
<text x="991.00" y="295.70" text-anchor="end">100</text>
<text x="653.20" y="302.30">W line</text>
<text x="719.63" y="302.30" text-anchor="end">22.9</text><text x="723.60" y="302.30" text-anchor="middle">±</text><text x="727.57" y="302.30">14.0</text>
<text x="777.73" y="302.30" text-anchor="end">106.1</text><text x="781.70" y="302.30" text-anchor="middle">±</text><text x="785.67" y="302.30">67.4</text>
<text x="842.20" y="302.30" text-anchor="end">112</text>
<text x="869.23" y="302.30" text-anchor="end">20.9</text><text x="873.20" y="302.30" text-anchor="middle">±</text><text x="877.17" y="302.30">11.0</text>
<text x="927.03" y="302.30" text-anchor="end">115.6</text><text x="931.00" y="302.30" text-anchor="middle">±</text><text x="934.97" y="302.30">84.3</text>
<text x="991.00" y="302.30" text-anchor="end">104</text>
</g>
<rect x="647.30" y="201.85" width="347.70" height="0.9" fill="#808080"/>
<rect x="710.50" y="211.15" width="135.80" height="0.6" fill="#808080"/>
<rect x="859.30" y="211.15" width="135.70" height="0.6" fill="#808080"/>
<rect x="647.30" y="222.30" width="347.70" height="0.8" fill="#808080"/>
<rect x="647.30" y="306.25" width="347.70" height="0.9" fill="#808080"/>
</svg>
<svg style="left:805.10px;top:324.30px" width="365.50" height="113.20" viewBox="805.10 324.30 365.50 113.20">
<rect x="805.10" y="324.30" width="365.50" height="113.20" fill="#fff"/>
<g fill="#1c1c1c" stroke="#1c1c1c" stroke-width="0.22" font-family="'Liberation Serif',serif" font-size="5.51">
<text x="808.20" y="332.51">Strain/maternal lineage</text>
<text x="873.10" y="332.51">OFT</text>
<text x="1027.00" y="332.51">DB</text>
<text x="873.10" y="343.92">Rears, mean ± S.D.</text>
<text x="1027.00" y="343.92">Rears, mean ± S.D.</text>
<text x="929.80" y="343.92">Groom time, mean ± S.D.</text>
<text x="1083.50" y="343.92">Groom time, mean ± S.D.</text>
<text x="1000.80" y="343.92" font-style="italic">n</text>
<text x="1155.20" y="343.92" font-style="italic">n</text>
<text x="808.20" y="354.62">Parent</text>
<text x="813.90" y="361.92">F344</text>
<text x="882.77" y="361.92" text-anchor="end">25.9</text><text x="886.90" y="361.92" text-anchor="middle">±</text><text x="891.02" y="361.92">13.0</text>
<text x="942.38" y="361.92" text-anchor="end">151.9</text><text x="946.50" y="361.92" text-anchor="middle">±</text><text x="950.62" y="361.92">66.9</text>
<text x="1009.10" y="361.92" text-anchor="end">28</text>
<text x="1036.58" y="361.92" text-anchor="end">21.7</text><text x="1040.70" y="361.92" text-anchor="middle">±</text><text x="1044.83" y="361.92">10.2</text>
<text x="1096.17" y="361.92" text-anchor="end">163.8</text><text x="1100.30" y="361.92" text-anchor="middle">±</text><text x="1104.42" y="361.92">92.6</text>
<text x="1162.60" y="361.92" text-anchor="end">20</text>
<text x="813.90" y="368.92">WKY</text>
<text x="882.77" y="368.92" text-anchor="end">9.6</text><text x="886.90" y="368.92" text-anchor="middle">±</text><text x="891.02" y="368.92">7.3</text>
<text x="942.38" y="368.92" text-anchor="end">35.3</text><text x="946.50" y="368.92" text-anchor="middle">±</text><text x="950.62" y="368.92">39.6</text>
<text x="1009.10" y="368.92" text-anchor="end">28</text>
<text x="1036.58" y="368.92" text-anchor="end">17.8</text><text x="1040.70" y="368.92" text-anchor="middle">±</text><text x="1044.83" y="368.92">7.4</text>
<text x="1096.17" y="368.92" text-anchor="end">82.4</text><text x="1100.30" y="368.92" text-anchor="middle">±</text><text x="1104.42" y="368.92">62.9</text>
<text x="1162.60" y="368.92" text-anchor="end">26</text>
<text x="808.20" y="379.51">F1 generation</text>
<text x="813.90" y="386.31">All F1</text>
<text x="882.77" y="386.31" text-anchor="end">13.2</text><text x="886.90" y="386.31" text-anchor="middle">±</text><text x="891.02" y="386.31">7.8</text>
<text x="942.38" y="386.31" text-anchor="end">57.6</text><text x="946.50" y="386.31" text-anchor="middle">±</text><text x="950.62" y="386.31">40.1</text>
<text x="1009.10" y="386.31" text-anchor="end">46</text>
<text x="1036.58" y="386.31" text-anchor="end">15.8</text><text x="1040.70" y="386.31" text-anchor="middle">±</text><text x="1044.83" y="386.31">7.1</text>
<text x="1096.17" y="386.31" text-anchor="end">102.5</text><text x="1100.30" y="386.31" text-anchor="middle">±</text><text x="1104.42" y="386.31">90.3</text>
<text x="1162.60" y="386.31" text-anchor="end">44</text>
<text x="813.90" y="393.12">F line</text>
<text x="882.77" y="393.12" text-anchor="end">16.9</text><text x="886.90" y="393.12" text-anchor="middle">±</text><text x="891.02" y="393.12">8.4</text>
<text x="942.38" y="393.12" text-anchor="end">37.9</text><text x="946.50" y="393.12" text-anchor="middle">±</text><text x="950.62" y="393.12">26.4</text>
<text x="1009.10" y="393.12" text-anchor="end">18</text>
<text x="1036.58" y="393.12" text-anchor="end">20.1</text><text x="1040.70" y="393.12" text-anchor="middle">±</text><text x="1044.83" y="393.12">8.0</text>
<text x="1096.17" y="393.12" text-anchor="end">58.5</text><text x="1100.30" y="393.12" text-anchor="middle">±</text><text x="1104.42" y="393.12">48.0</text>
<text x="1162.60" y="393.12" text-anchor="end">17</text>
<text x="813.90" y="400.12">W line</text>
<text x="882.77" y="400.12" text-anchor="end">10.8</text><text x="886.90" y="400.12" text-anchor="middle">±</text><text x="891.02" y="400.12">6.5</text>
<text x="942.38" y="400.12" text-anchor="end">70.3</text><text x="946.50" y="400.12" text-anchor="middle">±</text><text x="950.62" y="400.12">42.7</text>
<text x="1009.10" y="400.12" text-anchor="end">28</text>
<text x="1036.58" y="400.12" text-anchor="end">13.1</text><text x="1040.70" y="400.12" text-anchor="middle">±</text><text x="1044.83" y="400.12">5.0</text>
<text x="1096.17" y="400.12" text-anchor="end">130.3</text><text x="1100.30" y="400.12" text-anchor="middle">±</text><text x="1104.42" y="400.12">100.0</text>
<text x="1162.60" y="400.12" text-anchor="end">27</text>
<text x="808.20" y="410.51">F2 generation</text>
<text x="813.90" y="417.51">All F2</text>
<text x="882.77" y="417.51" text-anchor="end">16.5</text><text x="886.90" y="417.51" text-anchor="middle">±</text><text x="891.02" y="417.51">12.0</text>
<text x="942.38" y="417.51" text-anchor="end">59.5</text><text x="946.50" y="417.51" text-anchor="middle">±</text><text x="950.62" y="417.51">56.5</text>
<text x="1009.10" y="417.51" text-anchor="end">259</text>
<text x="1036.58" y="417.51" text-anchor="end">12.9</text><text x="1040.70" y="417.51" text-anchor="middle">±</text><text x="1044.83" y="417.51">8.8</text>
<text x="1096.17" y="417.51" text-anchor="end">78.2</text><text x="1100.30" y="417.51" text-anchor="middle">±</text><text x="1104.42" y="417.51">65.7</text>
<text x="1162.60" y="417.51" text-anchor="end">210</text>
<text x="813.90" y="424.31">F line</text>
<text x="882.77" y="424.31" text-anchor="end">16.3</text><text x="886.90" y="424.31" text-anchor="middle">±</text><text x="891.02" y="424.31">12.4</text>
<text x="942.38" y="424.31" text-anchor="end">50.3</text><text x="946.50" y="424.31" text-anchor="middle">±</text><text x="950.62" y="424.31">47.0</text>
<text x="1009.10" y="424.31" text-anchor="end">132</text>
<text x="1036.58" y="424.31" text-anchor="end">14.2</text><text x="1040.70" y="424.31" text-anchor="middle">±</text><text x="1044.83" y="424.31">9.8</text>
<text x="1096.17" y="424.31" text-anchor="end">72.0</text><text x="1100.30" y="424.31" text-anchor="middle">±</text><text x="1104.42" y="424.31">69.4</text>
<text x="1162.60" y="424.31" text-anchor="end">108</text>
<text x="813.90" y="431.31">W line</text>
<text x="882.77" y="431.31" text-anchor="end">16.6</text><text x="886.90" y="431.31" text-anchor="middle">±</text><text x="891.02" y="431.31">11.7</text>
<text x="942.38" y="431.31" text-anchor="end">68.9</text><text x="946.50" y="431.31" text-anchor="middle">±</text><text x="950.62" y="431.31">63.6</text>
<text x="1009.10" y="431.31" text-anchor="end">127</text>
<text x="1036.58" y="431.31" text-anchor="end">11.5</text><text x="1040.70" y="431.31" text-anchor="middle">±</text><text x="1044.83" y="431.31">7.5</text>
<text x="1096.17" y="431.31" text-anchor="end">84.7</text><text x="1100.30" y="431.31" text-anchor="middle">±</text><text x="1104.42" y="431.31">61.3</text>
<text x="1162.60" y="431.31" text-anchor="end">102</text>
</g>
<rect x="807.60" y="325.00" width="359.20" height="1.2" fill="#808080"/>
<rect x="872.80" y="336.10" width="140.40" height="0.8" fill="#808080"/>
<rect x="1026.50" y="336.10" width="140.30" height="0.8" fill="#808080"/>
<rect x="807.60" y="347.20" width="359.20" height="1.2" fill="#808080"/>
<rect x="807.60" y="435.00" width="359.20" height="1.2" fill="#808080"/>
</svg>
<svg style="left:761.00px;top:497.00px" width="288.40" height="154.30" viewBox="761.00 497.00 288.40 154.30">
<rect x="761.00" y="497.00" width="288.40" height="154.30" fill="#fff"/>
<rect x="783.40" y="505.60" width="55.20" height="55.65" fill="none" stroke="#666" stroke-width="0.65"/>
<rect x="843.60" y="505.60" width="56.00" height="55.65" fill="none" stroke="#666" stroke-width="0.65"/>
<path d="M782.00 505.60h1.40" stroke="#222" stroke-width="0.7"/>
<path d="M842.70 505.60h1.40" stroke="#222" stroke-width="0.7"/>
<path d="M782.00 521.50h1.40" stroke="#222" stroke-width="0.7"/>
<path d="M842.70 521.50h1.40" stroke="#222" stroke-width="0.7"/>
<path d="M782.00 537.40h1.40" stroke="#222" stroke-width="0.7"/>
<path d="M842.70 537.40h1.40" stroke="#222" stroke-width="0.7"/>
<path d="M782.00 553.25h1.40" stroke="#222" stroke-width="0.7"/>
<path d="M842.70 553.25h1.40" stroke="#222" stroke-width="0.7"/>
<path d="M783.40 529.60H838.60" stroke="#111" stroke-width="0.8" stroke-dasharray="0.95 0.65"/>
<path d="M843.60 540.50H899.60" stroke="#111" stroke-width="0.8" stroke-dasharray="0.95 0.65"/>
<path d="M790.75 515.25V531.50M789.55 515.25h2.40M789.55 531.50h2.40" stroke="#707070" stroke-width="0.5" fill="none"/>
<circle cx="790.75" cy="523.75" r="1.25" fill="#707070"/>
<path d="M794.40 529.40V544.25M793.20 529.40h2.40M793.20 544.25h2.40" stroke="#111" stroke-width="0.7" fill="none"/>
<circle cx="794.40" cy="536.75" r="1.5" fill="#111"/>
<path d="M809.25 527.50V542.75M808.05 527.50h2.40M808.05 542.75h2.40" stroke="#707070" stroke-width="0.5" fill="none"/>
<circle cx="809.25" cy="535.25" r="1.25" fill="#707070"/>
<path d="M813.00 534.40V546.25M811.80 534.40h2.40M811.80 546.25h2.40" stroke="#111" stroke-width="0.7" fill="none"/>
<circle cx="813.00" cy="540.90" r="1.5" fill="#111"/>
<path d="M829.60 530.90V536.50M828.40 530.90h2.40M828.40 536.50h2.40" stroke="#111" stroke-width="0.7" fill="none"/>
<circle cx="829.60" cy="533.60" r="1.5" fill="#111"/>
<path d="M851.10 520.25V536.50M849.90 520.25h2.40M849.90 536.50h2.40" stroke="#707070" stroke-width="0.5" fill="none"/>
<circle cx="851.10" cy="528.00" r="1.25" fill="#707070"/>
<path d="M854.60 549.40V558.50M853.40 549.40h2.40M853.40 558.50h2.40" stroke="#111" stroke-width="0.7" fill="none"/>
<circle cx="854.60" cy="554.10" r="1.5" fill="#111"/>
<path d="M869.60 535.60V549.00M868.40 535.60h2.40M868.40 549.00h2.40" stroke="#707070" stroke-width="0.5" fill="none"/>
<circle cx="869.60" cy="542.50" r="1.25" fill="#707070"/>
<path d="M873.60 547.50V556.25M872.40 547.50h2.40M872.40 556.25h2.40" stroke="#111" stroke-width="0.7" fill="none"/>
<circle cx="873.60" cy="552.10" r="1.5" fill="#111"/>
<path d="M890.10 540.90V545.50M888.90 540.90h2.40M888.90 545.50h2.40" stroke="#111" stroke-width="0.7" fill="none"/>
<circle cx="890.10" cy="543.40" r="1.5" fill="#111"/>
<rect x="928.40" y="505.60" width="55.20" height="55.65" fill="none" stroke="#666" stroke-width="0.65"/>
<rect x="988.60" y="505.60" width="56.00" height="55.65" fill="none" stroke="#666" stroke-width="0.65"/>
<path d="M927.00 505.60h1.40" stroke="#222" stroke-width="0.7"/>
<path d="M987.70 505.60h1.40" stroke="#222" stroke-width="0.7"/>
<path d="M927.00 521.50h1.40" stroke="#222" stroke-width="0.7"/>
<path d="M987.70 521.50h1.40" stroke="#222" stroke-width="0.7"/>
<path d="M927.00 537.40h1.40" stroke="#222" stroke-width="0.7"/>
<path d="M987.70 537.40h1.40" stroke="#222" stroke-width="0.7"/>
<path d="M927.00 553.25h1.40" stroke="#222" stroke-width="0.7"/>
<path d="M987.70 553.25h1.40" stroke="#222" stroke-width="0.7"/>
<path d="M928.40 521.50H983.60" stroke="#111" stroke-width="0.8" stroke-dasharray="0.95 0.65"/>
<path d="M988.60 537.50H1044.60" stroke="#111" stroke-width="0.8" stroke-dasharray="0.95 0.65"/>
<path d="M935.50 521.25V535.50M934.30 521.25h2.40M934.30 535.50h2.40" stroke="#707070" stroke-width="0.5" fill="none"/>
<circle cx="935.50" cy="528.40" r="1.25" fill="#707070"/>
<path d="M939.10 506.25V524.60M937.90 506.25h2.40M937.90 524.60h2.40" stroke="#111" stroke-width="0.7" fill="none"/>
<circle cx="939.10" cy="515.90" r="1.5" fill="#111"/>
<path d="M953.90 527.40V541.10M952.70 527.40h2.40M952.70 541.10h2.40" stroke="#707070" stroke-width="0.5" fill="none"/>
<circle cx="953.90" cy="534.60" r="1.25" fill="#707070"/>
<path d="M957.75 532.40V545.25M956.55 532.40h2.40M956.55 545.25h2.40" stroke="#111" stroke-width="0.7" fill="none"/>
<circle cx="957.75" cy="538.75" r="1.5" fill="#111"/>
<path d="M974.40 534.60V539.40M973.20 534.60h2.40M973.20 539.40h2.40" stroke="#111" stroke-width="0.7" fill="none"/>
<circle cx="974.40" cy="537.10" r="1.5" fill="#111"/>
<path d="M995.90 527.10V542.75M994.70 527.10h2.40M994.70 542.75h2.40" stroke="#707070" stroke-width="0.5" fill="none"/>
<circle cx="995.90" cy="535.00" r="1.25" fill="#707070"/>
<path d="M999.50 535.60V546.50M998.30 535.60h2.40M998.30 546.50h2.40" stroke="#111" stroke-width="0.7" fill="none"/>
<circle cx="999.50" cy="541.25" r="1.5" fill="#111"/>
<path d="M1014.60 530.60V544.00M1013.40 530.60h2.40M1013.40 544.00h2.40" stroke="#707070" stroke-width="0.5" fill="none"/>
<circle cx="1014.60" cy="537.50" r="1.25" fill="#707070"/>
<path d="M1018.25 545.25V551.50M1017.05 545.25h2.40M1017.05 551.50h2.40" stroke="#111" stroke-width="0.7" fill="none"/>
<circle cx="1018.25" cy="548.60" r="1.5" fill="#111"/>
<path d="M1034.90 547.10V550.50M1033.70 547.10h2.40M1033.70 550.50h2.40" stroke="#111" stroke-width="0.7" fill="none"/>
<circle cx="1034.90" cy="548.75" r="1.5" fill="#111"/>
<rect x="783.60" y="582.00" width="55.65" height="55.25" fill="none" stroke="#666" stroke-width="0.65"/>
<rect x="844.25" y="582.00" width="55.65" height="55.25" fill="none" stroke="#666" stroke-width="0.65"/>
<path d="M782.20 588.25h1.40" stroke="#222" stroke-width="0.7"/>
<path d="M843.35 588.25h1.40" stroke="#222" stroke-width="0.7"/>
<path d="M782.20 600.60h1.40" stroke="#222" stroke-width="0.7"/>
<path d="M843.35 600.60h1.40" stroke="#222" stroke-width="0.7"/>
<path d="M782.20 612.90h1.40" stroke="#222" stroke-width="0.7"/>
<path d="M843.35 612.90h1.40" stroke="#222" stroke-width="0.7"/>
<path d="M782.20 625.25h1.40" stroke="#222" stroke-width="0.7"/>
<path d="M843.35 625.25h1.40" stroke="#222" stroke-width="0.7"/>
<path d="M782.20 637.25h1.40" stroke="#222" stroke-width="0.7"/>
<path d="M843.35 637.25h1.40" stroke="#222" stroke-width="0.7"/>
<path d="M783.60 610.50H839.25" stroke="#111" stroke-width="0.8" stroke-dasharray="0.95 0.65"/>
<path d="M844.25 614.50H899.90" stroke="#111" stroke-width="0.8" stroke-dasharray="0.95 0.65"/>
<path d="M786.25 583.90V603.25M785.05 583.90h2.40M785.05 603.25h2.40" stroke="#707070" stroke-width="0.5" fill="none"/>
<circle cx="786.25" cy="593.50" r="1.25" fill="#707070"/>
<path d="M791.10 623.90V630.50M789.90 623.90h2.40M789.90 630.50h2.40" stroke="#111" stroke-width="0.7" fill="none"/>
<circle cx="791.10" cy="627.25" r="1.5" fill="#111"/>
<path d="M810.25 619.25V632.60M809.05 619.25h2.40M809.05 632.60h2.40" stroke="#707070" stroke-width="0.5" fill="none"/>
<circle cx="810.25" cy="626.10" r="1.25" fill="#707070"/>
<path d="M815.00 615.10V624.25M813.80 615.10h2.40M813.80 624.25h2.40" stroke="#111" stroke-width="0.7" fill="none"/>
<circle cx="815.00" cy="619.75" r="1.5" fill="#111"/>
<path d="M836.50 609.50V613.50M835.30 609.50h2.40M835.30 613.50h2.40" stroke="#111" stroke-width="0.7" fill="none"/>
<circle cx="836.50" cy="611.50" r="1.5" fill="#111"/>
<path d="M847.00 593.50V606.40M845.80 593.50h2.40M845.80 606.40h2.40" stroke="#707070" stroke-width="0.5" fill="none"/>
<circle cx="847.00" cy="600.00" r="1.25" fill="#707070"/>
<path d="M851.75 625.10V632.60M850.55 625.10h2.40M850.55 632.60h2.40" stroke="#111" stroke-width="0.7" fill="none"/>
<circle cx="851.75" cy="629.10" r="1.5" fill="#111"/>
<path d="M870.90 625.10V631.40M869.70 625.10h2.40M869.70 631.40h2.40" stroke="#707070" stroke-width="0.5" fill="none"/>
<circle cx="870.90" cy="628.25" r="1.25" fill="#707070"/>
<path d="M875.50 616.75V624.75M874.30 616.75h2.40M874.30 624.75h2.40" stroke="#111" stroke-width="0.7" fill="none"/>
<circle cx="875.50" cy="621.00" r="1.5" fill="#111"/>
<path d="M897.10 621.40V624.25M895.90 621.40h2.40M895.90 624.25h2.40" stroke="#111" stroke-width="0.7" fill="none"/>
<circle cx="897.10" cy="622.90" r="1.5" fill="#111"/>
<path d="M966.5 583.25V637.25M1004.5 583.25V637.25" stroke="#bbb" stroke-width="0.6"/>
<rect x="927.40" y="583.25" width="115.00" height="54.00" fill="none" stroke="#666" stroke-width="0.65"/>
<path d="M924.80 588.90h2.60" stroke="#222" stroke-width="0.7"/>
<path d="M924.80 601.10h2.60" stroke="#222" stroke-width="0.7"/>
<path d="M924.80 613.25h2.60" stroke="#222" stroke-width="0.7"/>
<path d="M924.80 625.40h2.60" stroke="#222" stroke-width="0.7"/>
<path d="M924.80 637.25h2.60" stroke="#222" stroke-width="0.7"/>
<path d="M927.40 607.40H1042.40" stroke="#111" stroke-width="0.8" stroke-dasharray="0.95 0.65"/>
<circle cx="933.60" cy="633.50" r="0.95" fill="none" stroke="#333" stroke-width="0.4"/><path d="M933.60 634.45v1.6M933.00 635.30h1.2" stroke="#333" stroke-width="0.4"/>
<circle cx="977.40" cy="633.50" r="0.95" fill="none" stroke="#333" stroke-width="0.4"/><path d="M977.40 634.45v1.6M976.80 635.30h1.2" stroke="#333" stroke-width="0.4"/>
<circle cx="1016.50" cy="633.50" r="0.95" fill="none" stroke="#333" stroke-width="0.4"/><path d="M1016.50 634.45v1.6M1015.90 635.30h1.2" stroke="#333" stroke-width="0.4"/>
<circle cx="953.30" cy="634.50" r="0.95" fill="none" stroke="#333" stroke-width="0.4"/><path d="M954.00 633.80l1.2 -1.2m-0.8 0h0.8v0.8" stroke="#333" stroke-width="0.4" fill="none"/>
<circle cx="995.20" cy="634.50" r="0.95" fill="none" stroke="#333" stroke-width="0.4"/><path d="M995.90 633.80l1.2 -1.2m-0.8 0h0.8v0.8" stroke="#333" stroke-width="0.4" fill="none"/>
<circle cx="1033.70" cy="634.50" r="0.95" fill="none" stroke="#333" stroke-width="0.4"/><path d="M1034.40 633.80l1.2 -1.2m-0.8 0h0.8v0.8" stroke="#333" stroke-width="0.4" fill="none"/>
<path d="M933.00 590.50V610.50M931.80 590.50h2.40M931.80 610.50h2.40" stroke="#707070" stroke-width="0.5" fill="none"/>
<circle cx="933.00" cy="600.75" r="1.25" fill="#707070"/>
<path d="M938.75 605.50V621.75M937.55 605.50h2.40M937.55 621.75h2.40" stroke="#111" stroke-width="0.7" fill="none"/>
<circle cx="938.75" cy="613.90" r="1.5" fill="#111"/>
<path d="M950.50 588.00V607.60M949.30 588.00h2.40M949.30 607.60h2.40" stroke="#707070" stroke-width="0.5" fill="none"/>
<circle cx="950.50" cy="597.75" r="1.25" fill="#707070"/>
<path d="M956.10 611.40V623.50M954.90 611.40h2.40M954.90 623.50h2.40" stroke="#111" stroke-width="0.7" fill="none"/>
<circle cx="956.10" cy="617.60" r="1.5" fill="#111"/>
<path d="M973.60 618.90V633.25M972.40 618.90h2.40M972.40 633.25h2.40" stroke="#707070" stroke-width="0.5" fill="none"/>
<circle cx="973.60" cy="626.10" r="1.25" fill="#707070"/>
<path d="M979.25 614.25V625.75M978.05 614.25h2.40M978.05 625.75h2.40" stroke="#111" stroke-width="0.7" fill="none"/>
<circle cx="979.25" cy="620.10" r="1.5" fill="#111"/>
<path d="M990.75 617.25V629.50M989.55 617.25h2.40M989.55 629.50h2.40" stroke="#707070" stroke-width="0.5" fill="none"/>
<circle cx="990.75" cy="623.25" r="1.25" fill="#707070"/>
<path d="M996.50 596.40V615.50M995.30 596.40h2.40M995.30 615.50h2.40" stroke="#111" stroke-width="0.7" fill="none"/>
<circle cx="996.50" cy="606.10" r="1.5" fill="#111"/>
<path d="M1013.90 616.00V623.00M1012.70 616.00h2.40M1012.70 623.00h2.40" stroke="#707070" stroke-width="0.5" fill="none"/>
<circle cx="1013.90" cy="619.50" r="1.25" fill="#707070"/>
<path d="M1019.90 605.25V613.25M1018.70 605.25h2.40M1018.70 613.25h2.40" stroke="#111" stroke-width="0.7" fill="none"/>
<circle cx="1019.90" cy="609.50" r="1.5" fill="#111"/>
<path d="M1031.40 616.40V623.50M1030.20 616.40h2.40M1030.20 623.50h2.40" stroke="#707070" stroke-width="0.5" fill="none"/>
<circle cx="1031.40" cy="620.10" r="1.25" fill="#707070"/>
<path d="M1037.10 613.90V619.90M1035.90 613.90h2.40M1035.90 619.90h2.40" stroke="#111" stroke-width="0.7" fill="none"/>
<circle cx="1037.10" cy="616.75" r="1.5" fill="#111"/>
<g fill="#333" stroke="#333" stroke-width="0.1" font-family="'Liberation Sans',sans-serif" font-size="3.89">
<text x="780.80" y="507.00" text-anchor="end">40</text>
<text x="780.80" y="522.90" text-anchor="end">30</text>
<text x="780.80" y="538.80" text-anchor="end">20</text>
<text x="780.80" y="554.65" text-anchor="end">10</text>
<text x="810.90" y="504.26" text-anchor="middle" font-size="4.61">female</text>
<text x="871.50" y="504.26" text-anchor="middle" font-size="4.61">male</text>
<text transform="translate(772.50 534.00) rotate(-90)" text-anchor="middle" font-size="4.51">Rears in OFT</text>
<text x="788.00" y="565.30" text-anchor="middle">F344</text>
<text x="811.75" y="565.30" text-anchor="middle">F1</text>
<text x="830.25" y="565.30" text-anchor="middle">F2</text>
<text x="852.40" y="565.30" text-anchor="middle">F344</text>
<text x="871.75" y="565.30" text-anchor="middle">F1</text>
<text x="890.50" y="565.30" text-anchor="middle">F2</text>
<text x="794.60" y="569.60" text-anchor="middle">WKY</text>
<text x="855.60" y="569.60" text-anchor="middle">WKY</text>
<text x="772.40" y="568.11" text-anchor="middle" font-size="4.2">(A)</text>
<text x="883.30" y="511.14" text-anchor="middle" font-size="3.44">error bars: 95% CI</text>
<text x="925.80" y="507.00" text-anchor="end">40</text>
<text x="925.80" y="522.90" text-anchor="end">30</text>
<text x="925.80" y="538.80" text-anchor="end">20</text>
<text x="925.80" y="554.65" text-anchor="end">10</text>
<text x="955.90" y="504.26" text-anchor="middle" font-size="4.61">female</text>
<text x="1016.50" y="504.26" text-anchor="middle" font-size="4.61">male</text>
<text transform="translate(917.50 534.00) rotate(-90)" text-anchor="middle" font-size="4.51">Rears in DB</text>
<text x="933.00" y="565.30" text-anchor="middle">F344</text>
<text x="956.75" y="565.30" text-anchor="middle">F1</text>
<text x="975.25" y="565.30" text-anchor="middle">F2</text>
<text x="997.40" y="565.30" text-anchor="middle">F344</text>
<text x="1016.75" y="565.30" text-anchor="middle">F1</text>
<text x="1035.50" y="565.30" text-anchor="middle">F2</text>
<text x="939.60" y="569.60" text-anchor="middle">WKY</text>
<text x="1000.60" y="569.60" text-anchor="middle">WKY</text>
<text x="917.40" y="568.11" text-anchor="middle" font-size="4.2">(D)</text>
<text x="780.80" y="589.65" text-anchor="end">200</text>
<text x="780.80" y="602.00" text-anchor="end">150</text>
<text x="780.80" y="614.30" text-anchor="end">100</text>
<text x="780.80" y="626.65" text-anchor="end">50</text>
<text x="780.80" y="638.65" text-anchor="end">0</text>
<text transform="translate(771.30 609.50) rotate(-90)" text-anchor="middle" font-size="4.69">OFT Grooming, sec</text>
<text x="790.25" y="641.90" text-anchor="middle">F344</text>
<text x="814.25" y="641.90" text-anchor="middle">F1</text>
<text x="833.00" y="641.90" text-anchor="middle">F2</text>
<text x="850.50" y="641.90" text-anchor="middle">F344</text>
<text x="874.25" y="641.90" text-anchor="middle">F1</text>
<text x="893.00" y="641.90" text-anchor="middle">F2</text>
<text x="796.50" y="645.59" text-anchor="middle" font-size="3.3">WKY</text>
<text x="856.75" y="645.59" text-anchor="middle" font-size="3.3">WKY</text>
<text x="770.50" y="645.20" text-anchor="middle" font-size="3.6">(B)</text>
<text x="923.80" y="590.30" text-anchor="end">200</text>
<text x="923.80" y="602.50" text-anchor="end">150</text>
<text x="923.80" y="614.65" text-anchor="end">100</text>
<text x="923.80" y="626.80" text-anchor="end">50</text>
<text x="923.80" y="638.65" text-anchor="end">0</text>
<text transform="translate(912.50 612.00) rotate(-90)" text-anchor="middle" font-size="4.61">DB Grooming, sec</text>
<text x="945.70" y="581.90" text-anchor="middle">PARENTS STRAINS</text>
<text x="984.75" y="581.90" text-anchor="middle">F1 GENERATION</text>
<text x="1022.20" y="581.90" text-anchor="middle">F2 GENERATION</text>
<text x="935.35" y="641.90" text-anchor="middle">F344</text>
<text x="940.10" y="646.00" text-anchor="middle">WKY</text>
<text x="954.60" y="641.90" text-anchor="middle">F344</text>
<text x="957.25" y="646.00" text-anchor="middle">WKY</text>
<text x="987.20" y="641.98" text-anchor="middle" font-size="4.1">WKY mother</text>
<text x="980.20" y="646.08" text-anchor="middle" font-size="4.1">F344 mother</text>
<text x="1025.50" y="641.98" text-anchor="middle" font-size="4.1">WKY grandmother</text>
<text x="1025.50" y="646.08" text-anchor="middle" font-size="4.1">F344 grandmother</text>
<text x="911.75" y="645.20" text-anchor="middle" font-size="3.6">(E)</text>
</g></svg>
</body></html>
